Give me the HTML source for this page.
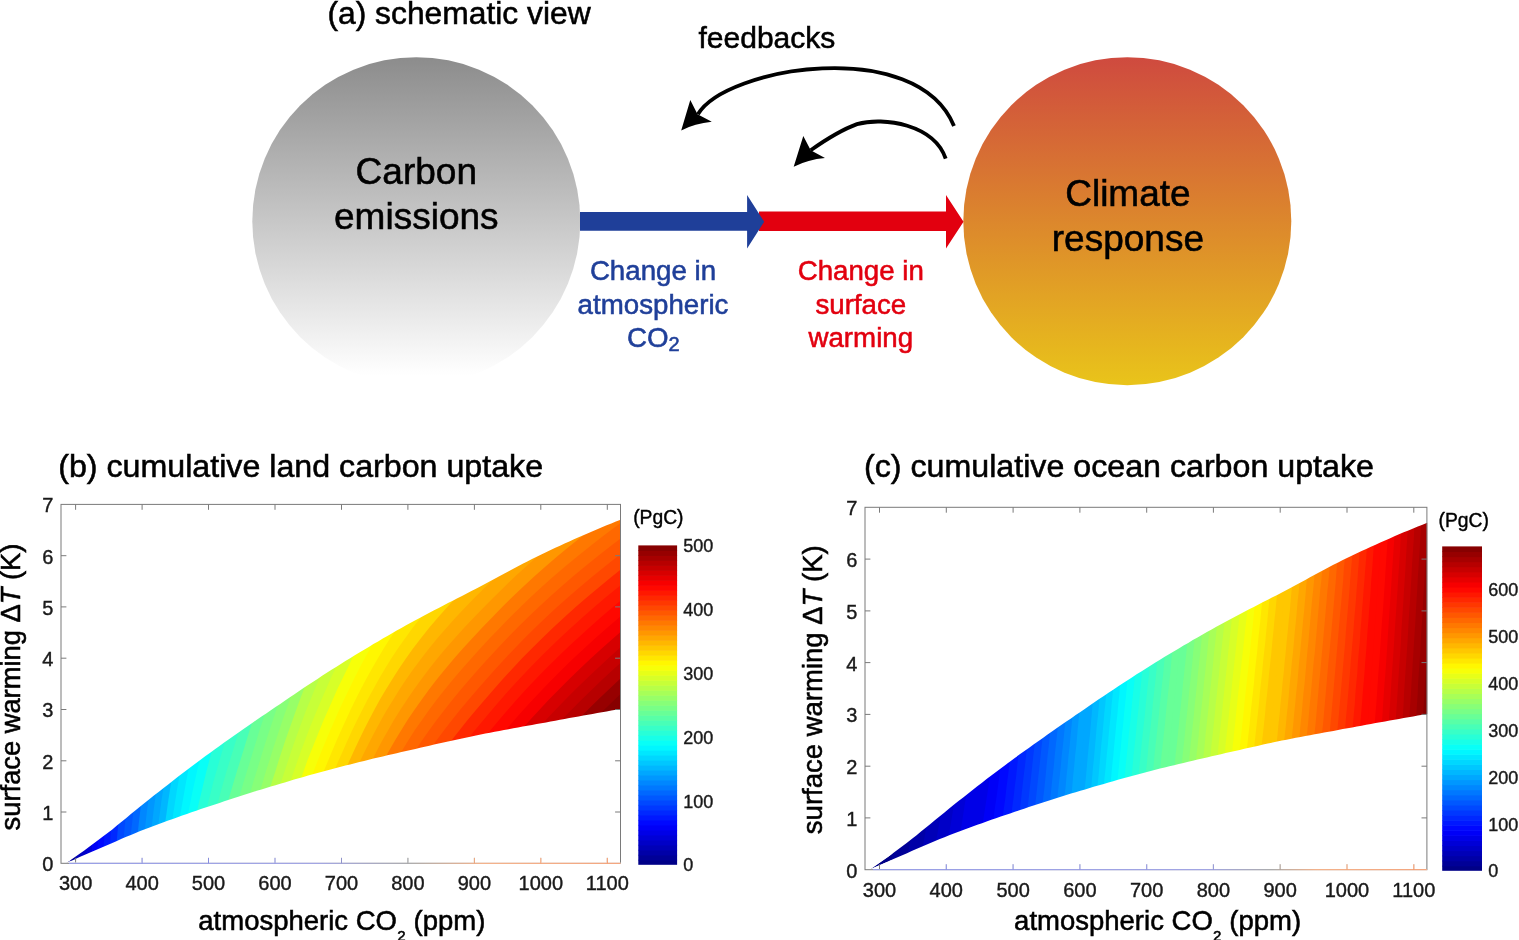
<!DOCTYPE html>
<html lang="en"><head><meta charset="utf-8"><title>Carbon-climate feedbacks</title>
<style>html,body{margin:0;padding:0;background:#fff;}body{width:1519px;height:940px;overflow:hidden;font-family:"Liberation Sans", sans-serif;}</style></head>
<body>
<svg width="1519" height="940" viewBox="0 0 1519 940" style="display:block" font-family='Liberation Sans, sans-serif'>
<defs>
<linearGradient id="gGrey" x1="0" y1="0" x2="0" y2="1"><stop offset="0" stop-color="#8c8c8c"/><stop offset="0.97" stop-color="#ffffff"/></linearGradient>
<linearGradient id="gWarm" x1="0" y1="0" x2="0" y2="1"><stop offset="0" stop-color="#cf4a3f"/><stop offset="1" stop-color="#e9c41a"/></linearGradient>
</defs>
<rect width="1519" height="940" fill="#fff"/>
<text x="327.4" y="23.7" font-size="31.8" fill="#000" stroke="#000" stroke-width="0.55">(a) schematic view</text>
<circle cx="416.3" cy="221.2" r="164" fill="url(#gGrey)"/>
<circle cx="1127.3" cy="221.2" r="164" fill="url(#gWarm)"/>
<text x="416.3" y="184.1" font-size="37" text-anchor="middle" fill="#000" stroke="#000" stroke-width="0.55">Carbon</text>
<text x="416.3" y="228.9" font-size="37" text-anchor="middle" fill="#000" stroke="#000" stroke-width="0.55">emissions</text>
<text x="1127.9" y="206.1" font-size="37" text-anchor="middle" fill="#000" stroke="#000" stroke-width="0.55">Climate</text>
<text x="1127.9" y="250.8" font-size="37" text-anchor="middle" fill="#000" stroke="#000" stroke-width="0.55">response</text>
<path d="M759 211.6 H946 V194.9 L963.5 221.7 L946 248.5 V231 H759 Z" fill="#e2000f"/>
<path d="M580 212.1 H747.1 V195.1 L764.2 221.8 L747.1 248.5 V230.8 H580 Z" fill="#1f3f99"/>
<text x="653" y="280.3" font-size="27.7" text-anchor="middle" fill="#1f3f99" stroke="#1f3f99" stroke-width="0.55">Change in</text>
<text x="653" y="313.9" font-size="27.7" text-anchor="middle" fill="#1f3f99" stroke="#1f3f99" stroke-width="0.55">atmospheric</text>
<text x="627" y="347.4" font-size="27.7" fill="#1f3f99" stroke="#1f3f99" stroke-width="0.55">CO<tspan font-size="20" dy="4">2</tspan></text>
<text x="860.8" y="280.3" font-size="27.7" text-anchor="middle" fill="#e2000f" stroke="#e2000f" stroke-width="0.55">Change in</text>
<text x="860.8" y="313.9" font-size="27.7" text-anchor="middle" fill="#e2000f" stroke="#e2000f" stroke-width="0.55">surface</text>
<text x="860.8" y="347.4" font-size="27.7" text-anchor="middle" fill="#e2000f" stroke="#e2000f" stroke-width="0.55">warming</text>
<text x="698.5" y="48.3" font-size="30" fill="#000" stroke="#000" stroke-width="0.55">feedbacks</text>
<path d="M954 126 C916.9 35.3 725.4 67 697.9 114.3" fill="none" stroke="#000" stroke-width="3.8"/>
<path d="M945.7 158.7 C934.1 124.7 884.2 116.5 857 124.1 Q838 131 810.7 150.2" fill="none" stroke="#000" stroke-width="3.8"/>
<path d="M681.2 130.4 L690.3 100.1 L697.5 114.2 L711.8 121.8 Q695 123.5 681.2 130.4 Z" fill="#000"/>
<path d="M793.7 166.7 L803.3 136.1 L810.7 150.2 L825 158 Q808 159.5 793.7 166.7 Z" fill="#000"/>
<mask id="clipb" maskUnits="userSpaceOnUse" x="0" y="400" width="1519" height="540"><path d="M65.6 863.3 L70.3 860.2 L75.0 857.0 L79.6 853.7 L84.3 850.4 L88.9 847.0 L93.6 843.6 L98.3 840.1 L102.9 836.6 L107.6 833.0 L112.3 829.4 L116.9 825.6 L121.6 821.8 L126.3 817.9 L130.9 814.1 L135.6 810.3 L140.2 806.5 L144.9 802.8 L149.6 799.0 L154.2 795.3 L158.9 791.7 L163.6 788.0 L168.2 784.4 L172.9 780.7 L177.6 777.1 L182.2 773.5 L186.9 770.0 L191.5 766.5 L196.2 763.0 L200.9 759.5 L205.5 756.1 L210.2 752.7 L214.9 749.3 L219.5 746.0 L224.2 742.6 L228.9 739.3 L233.5 736.0 L238.2 732.8 L242.8 729.5 L247.5 726.3 L252.2 723.0 L256.8 719.8 L261.5 716.6 L266.2 713.4 L270.8 710.2 L275.5 707.1 L280.2 703.9 L284.8 700.7 L289.5 697.5 L294.1 694.4 L298.8 691.3 L303.5 688.1 L308.1 685.0 L312.8 681.9 L317.5 678.9 L322.1 675.8 L326.8 672.8 L331.5 669.8 L336.1 666.9 L340.8 664.0 L345.4 661.1 L350.1 658.2 L354.8 655.3 L359.4 652.5 L364.1 649.7 L368.8 646.9 L373.4 644.1 L378.1 641.4 L382.8 638.6 L387.4 635.9 L392.1 633.3 L396.7 630.6 L401.4 628.0 L406.1 625.3 L410.7 622.8 L415.4 620.2 L420.1 617.7 L424.7 615.2 L429.4 612.7 L434.1 610.3 L438.7 607.9 L443.4 605.5 L448.0 603.1 L452.7 600.7 L457.4 598.3 L462.0 595.9 L466.7 593.5 L471.4 591.1 L476.0 588.7 L480.7 586.3 L485.4 583.8 L490.0 581.3 L494.7 578.8 L499.3 576.3 L504.0 573.8 L508.7 571.3 L513.3 568.7 L518.0 566.3 L522.7 563.8 L527.3 561.4 L532.0 559.0 L536.7 556.7 L541.3 554.4 L546.0 552.2 L550.6 550.0 L555.3 547.8 L560.0 545.7 L564.6 543.5 L569.3 541.4 L574.0 539.3 L578.6 537.2 L583.3 535.2 L588.0 533.2 L592.6 531.2 L597.3 529.2 L601.9 527.3 L606.6 525.3 L611.3 523.5 L615.9 521.6 L620.6 519.8 L620.6 709.0 L615.9 709.8 L611.3 710.6 L606.6 711.5 L601.9 712.3 L597.3 713.1 L592.6 713.9 L588.0 714.8 L583.3 715.6 L578.6 716.5 L574.0 717.3 L569.3 718.1 L564.6 719.0 L560.0 719.8 L555.3 720.7 L550.6 721.5 L546.0 722.4 L541.3 723.2 L536.7 724.1 L532.0 724.9 L527.3 725.8 L522.7 726.6 L518.0 727.5 L513.3 728.3 L508.7 729.2 L504.0 730.1 L499.3 730.9 L494.7 731.8 L490.0 732.7 L485.4 733.6 L480.7 734.5 L476.0 735.5 L471.4 736.5 L466.7 737.4 L462.0 738.4 L457.4 739.4 L452.7 740.5 L448.0 741.5 L443.4 742.5 L438.7 743.6 L434.1 744.6 L429.4 745.7 L424.7 746.7 L420.1 747.8 L415.4 748.9 L410.7 750.0 L406.1 751.0 L401.4 752.1 L396.7 753.2 L392.1 754.3 L387.4 755.3 L382.8 756.4 L378.1 757.5 L373.4 758.6 L368.8 759.8 L364.1 760.9 L359.4 762.0 L354.8 763.2 L350.1 764.4 L345.4 765.5 L340.8 766.7 L336.1 768.0 L331.5 769.2 L326.8 770.5 L322.1 771.7 L317.5 773.0 L312.8 774.3 L308.1 775.6 L303.5 776.9 L298.8 778.3 L294.1 779.6 L289.5 781.0 L284.8 782.4 L280.2 783.8 L275.5 785.2 L270.8 786.6 L266.2 788.0 L261.5 789.4 L256.8 790.8 L252.2 792.3 L247.5 793.8 L242.8 795.3 L238.2 796.8 L233.5 798.3 L228.9 799.8 L224.2 801.3 L219.5 802.9 L214.9 804.4 L210.2 806.0 L205.5 807.6 L200.9 809.1 L196.2 810.7 L191.5 812.3 L186.9 813.9 L182.2 815.6 L177.6 817.2 L172.9 818.9 L168.2 820.6 L163.6 822.3 L158.9 824.0 L154.2 825.7 L149.6 827.5 L144.9 829.3 L140.2 831.1 L135.6 833.0 L130.9 834.9 L126.3 836.8 L121.6 838.8 L116.9 840.9 L112.3 842.9 L107.6 844.9 L102.9 846.9 L98.3 849.0 L93.6 851.0 L88.9 853.0 L84.3 855.1 L79.6 857.1 L75.0 859.2 L70.3 861.2 L65.6 863.3Z" fill="#fff"/></mask>
<g mask="url(#clipb)">
<path d="M65.6 863.3 L70.3 860.2 L75.0 857.0 L79.6 853.7 L84.3 850.4 L88.9 847.0 L93.6 843.6 L98.3 840.1 L102.9 836.6 L107.6 833.0 L112.3 829.4 L116.9 825.6 L121.6 821.8 L126.3 817.9 L130.9 814.1 L135.6 810.3 L140.2 806.5 L144.9 802.8 L149.6 799.0 L154.2 795.3 L158.9 791.7 L163.6 788.0 L168.2 784.4 L172.9 780.7 L177.6 777.1 L182.2 773.5 L186.9 770.0 L191.5 766.5 L196.2 763.0 L200.9 759.5 L205.5 756.1 L210.2 752.7 L214.9 749.3 L219.5 746.0 L224.2 742.6 L228.9 739.3 L233.5 736.0 L238.2 732.8 L242.8 729.5 L247.5 726.3 L252.2 723.0 L256.8 719.8 L261.5 716.6 L266.2 713.4 L270.8 710.2 L275.5 707.1 L280.2 703.9 L284.8 700.7 L289.5 697.5 L294.1 694.4 L298.8 691.3 L303.5 688.1 L308.1 685.0 L312.8 681.9 L317.5 678.9 L322.1 675.8 L326.8 672.8 L331.5 669.8 L336.1 666.9 L340.8 664.0 L345.4 661.1 L350.1 658.2 L354.8 655.3 L359.4 652.5 L364.1 649.7 L368.8 646.9 L373.4 644.1 L378.1 641.4 L382.8 638.6 L387.4 635.9 L392.1 633.3 L396.7 630.6 L401.4 628.0 L406.1 625.3 L410.7 622.8 L415.4 620.2 L420.1 617.7 L424.7 615.2 L429.4 612.7 L434.1 610.3 L438.7 607.9 L443.4 605.5 L448.0 603.1 L452.7 600.7 L457.4 598.3 L462.0 595.9 L466.7 593.5 L471.4 591.1 L476.0 588.7 L480.7 586.3 L485.4 583.8 L490.0 581.3 L494.7 578.8 L499.3 576.3 L504.0 573.8 L508.7 571.3 L513.3 568.7 L518.0 566.3 L522.7 563.8 L527.3 561.4 L532.0 559.0 L536.7 556.7 L541.3 554.4 L546.0 552.2 L550.6 550.0 L555.3 547.8 L560.0 545.7 L564.6 543.5 L569.3 541.4 L574.0 539.3 L578.6 537.2 L583.3 535.2 L588.0 533.2 L592.6 531.2 L597.3 529.2 L601.9 527.3 L606.6 525.3 L611.3 523.5 L615.9 521.6 L620.6 519.8 L620.6 709.0 L615.9 709.8 L611.3 710.6 L606.6 711.5 L601.9 712.3 L597.3 713.1 L592.6 713.9 L588.0 714.8 L583.3 715.6 L578.6 716.5 L574.0 717.3 L569.3 718.1 L564.6 719.0 L560.0 719.8 L555.3 720.7 L550.6 721.5 L546.0 722.4 L541.3 723.2 L536.7 724.1 L532.0 724.9 L527.3 725.8 L522.7 726.6 L518.0 727.5 L513.3 728.3 L508.7 729.2 L504.0 730.1 L499.3 730.9 L494.7 731.8 L490.0 732.7 L485.4 733.6 L480.7 734.5 L476.0 735.5 L471.4 736.5 L466.7 737.4 L462.0 738.4 L457.4 739.4 L452.7 740.5 L448.0 741.5 L443.4 742.5 L438.7 743.6 L434.1 744.6 L429.4 745.7 L424.7 746.7 L420.1 747.8 L415.4 748.9 L410.7 750.0 L406.1 751.0 L401.4 752.1 L396.7 753.2 L392.1 754.3 L387.4 755.3 L382.8 756.4 L378.1 757.5 L373.4 758.6 L368.8 759.8 L364.1 760.9 L359.4 762.0 L354.8 763.2 L350.1 764.4 L345.4 765.5 L340.8 766.7 L336.1 768.0 L331.5 769.2 L326.8 770.5 L322.1 771.7 L317.5 773.0 L312.8 774.3 L308.1 775.6 L303.5 776.9 L298.8 778.3 L294.1 779.6 L289.5 781.0 L284.8 782.4 L280.2 783.8 L275.5 785.2 L270.8 786.6 L266.2 788.0 L261.5 789.4 L256.8 790.8 L252.2 792.3 L247.5 793.8 L242.8 795.3 L238.2 796.8 L233.5 798.3 L228.9 799.8 L224.2 801.3 L219.5 802.9 L214.9 804.4 L210.2 806.0 L205.5 807.6 L200.9 809.1 L196.2 810.7 L191.5 812.3 L186.9 813.9 L182.2 815.6 L177.6 817.2 L172.9 818.9 L168.2 820.6 L163.6 822.3 L158.9 824.0 L154.2 825.7 L149.6 827.5 L144.9 829.3 L140.2 831.1 L135.6 833.0 L130.9 834.9 L126.3 836.8 L121.6 838.8 L116.9 840.9 L112.3 842.9 L107.6 844.9 L102.9 846.9 L98.3 849.0 L93.6 851.0 L88.9 853.0 L84.3 855.1 L79.6 857.1 L75.0 859.2 L70.3 861.2 L65.6 863.3Z" fill="#000087"/>
<path d="M68.2 914.6 L70.2 883.8 L70.4 873.6 L70.7 863.3 L70.7 853.0 L70.9 842.8 L72.9 453.1 L740.2 453.1 L740.2 914.6 Z" fill="#000097"/>
<path d="M73.2 914.6 L75.2 883.8 L75.4 873.6 L75.6 863.3 L75.9 853.0 L76.1 842.8 L76.3 832.5 L78.3 453.1 L740.2 453.1 L740.2 914.6 Z" fill="#0000b7"/>
<path d="M78.4 914.6 L80.4 873.6 L80.6 863.3 L80.8 853.0 L81.3 842.8 L81.5 832.5 L83.5 453.1 L740.2 453.1 L740.2 914.6 Z" fill="#0000c7"/>
<path d="M83.4 914.6 L85.4 873.6 L85.8 863.3 L86.3 853.0 L86.7 842.8 L86.9 832.5 L88.9 453.1 L740.2 453.1 L740.2 914.6 Z" fill="#0000d7"/>
<path d="M88.8 914.6 L90.8 873.6 L91.2 863.3 L91.7 853.0 L92.1 842.8 L92.6 832.5 L93.3 822.3 L95.3 453.1 L740.2 453.1 L740.2 914.6 Z" fill="#0000f7"/>
<path d="M94.2 914.6 L96.2 873.6 L96.7 863.3 L97.3 853.0 L97.8 842.8 L98.5 832.5 L99.2 822.3 L101.2 453.1 L740.2 453.1 L740.2 914.6 Z" fill="#0008ff"/>
<path d="M100.5 914.6 L102.5 863.3 L103.2 853.0 L103.9 842.8 L104.6 832.5 L105.3 822.3 L105.9 812.0 L107.9 453.1 L740.2 453.1 L740.2 914.6 Z" fill="#0018ff"/>
<path d="M106.4 914.6 L108.4 863.3 L109.3 853.0 L110.0 842.8 L110.9 832.5 L111.8 822.3 L112.5 812.0 L114.5 453.1 L740.2 453.1 L740.2 914.6 Z" fill="#0028ff"/>
<path d="M112.8 914.6 L114.8 863.3 L115.7 853.0 L116.6 842.8 L117.5 832.5 L118.4 822.3 L119.3 812.0 L120.4 801.8 L122.4 453.1 L740.2 453.1 L740.2 914.6 Z" fill="#0048ff"/>
<path d="M119.3 914.6 L121.3 863.3 L122.2 853.0 L123.1 842.8 L124.2 832.5 L125.1 822.3 L126.3 812.0 L127.4 801.8 L128.5 791.5 L130.5 453.1 L740.2 453.1 L740.2 914.6 Z" fill="#0058ff"/>
<path d="M126.8 914.6 L128.8 853.0 L129.9 842.8 L131.0 832.5 L132.2 822.3 L133.3 812.0 L134.4 801.8 L135.5 791.5 L137.5 453.1 L740.2 453.1 L740.2 914.6 Z" fill="#0068ff"/>
<path d="M133.5 914.6 L135.5 853.0 L136.7 842.8 L137.8 832.5 L138.9 822.3 L140.1 812.0 L141.4 801.8 L142.6 791.5 L143.9 781.3 L145.9 453.1 L740.2 453.1 L740.2 914.6 Z" fill="#0087ff"/>
<path d="M140.1 914.6 L142.1 853.0 L143.2 842.8 L144.4 832.5 L145.7 822.3 L146.8 812.0 L148.2 801.8 L149.3 791.5 L150.7 781.3 L152.7 453.1 L740.2 453.1 L740.2 914.6 Z" fill="#0097ff"/>
<path d="M146.4 914.6 L148.4 853.0 L149.8 842.8 L150.9 832.5 L152.3 822.3 L153.4 812.0 L154.8 801.8 L156.1 791.5 L157.5 781.3 L158.8 771.0 L160.8 453.1 L740.2 453.1 L740.2 914.6 Z" fill="#00a7ff"/>
<path d="M154.1 914.6 L156.1 842.8 L157.5 832.5 L158.6 822.3 L160.0 812.0 L161.3 801.8 L162.9 791.5 L164.3 781.3 L165.8 771.0 L167.2 760.8 L169.2 453.1 L740.2 453.1 L740.2 914.6 Z" fill="#00b7ff"/>
<path d="M160.4 914.6 L162.4 842.8 L163.8 832.5 L165.2 822.3 L166.7 812.0 L168.1 801.8 L169.7 791.5 L171.3 781.3 L172.8 771.0 L174.4 760.8 L176.4 453.1 L740.2 453.1 L740.2 914.6 Z" fill="#00d7ff"/>
<path d="M167.0 914.6 L169.0 842.8 L170.4 832.5 L171.9 822.3 L173.5 812.0 L175.1 801.8 L176.7 791.5 L178.5 781.3 L180.3 771.0 L182.1 760.8 L183.9 750.5 L185.9 453.1 L740.2 453.1 L740.2 914.6 Z" fill="#00e7ff"/>
<path d="M173.8 914.6 L175.8 842.8 L177.4 832.5 L178.9 822.3 L180.8 812.0 L182.6 801.8 L184.4 791.5 L186.2 781.3 L188.2 771.0 L190.5 760.8 L192.7 750.5 L195.0 740.3 L197.0 453.1 L740.2 453.1 L740.2 914.6 Z" fill="#00f7ff"/>
<path d="M182.6 914.6 L184.6 832.5 L186.4 822.3 L188.4 812.0 L190.5 801.8 L192.5 791.5 L194.8 781.3 L197.0 771.0 L199.5 760.8 L202.0 750.5 L204.5 740.3 L207.2 730.0 L209.2 453.1 L740.2 453.1 L740.2 914.6 Z" fill="#08fff7"/>
<path d="M190.5 914.6 L192.5 832.5 L194.8 822.3 L196.8 812.0 L199.1 801.8 L201.6 791.5 L204.0 781.3 L206.5 771.0 L209.2 760.8 L212.0 750.5 L214.9 740.3 L217.8 730.0 L220.8 719.7 L222.8 453.1 L740.2 453.1 L740.2 914.6 Z" fill="#28ffd7"/>
<path d="M199.1 914.6 L201.1 832.5 L203.4 822.3 L205.8 812.0 L208.3 801.8 L211.0 791.5 L213.5 781.3 L216.5 771.0 L219.4 760.8 L222.4 750.5 L225.3 740.3 L228.5 730.0 L231.8 719.7 L235.2 709.5 L237.2 453.1 L740.2 453.1 L740.2 914.6 Z" fill="#38ffc7"/>
<path d="M210.6 914.6 L212.6 822.3 L215.3 812.0 L218.1 801.8 L220.8 791.5 L223.7 781.3 L226.6 771.0 L229.8 760.8 L233.0 750.5 L236.1 740.3 L239.3 730.0 L242.7 719.7 L246.1 709.5 L248.1 453.1 L740.2 453.1 L740.2 914.6 Z" fill="#48ffb7"/>
<path d="M220.1 914.6 L222.1 822.3 L225.1 812.0 L227.8 801.8 L230.9 791.5 L233.9 781.3 L237.0 771.0 L240.2 760.8 L243.4 750.5 L246.5 740.3 L249.7 730.0 L253.1 719.7 L256.3 709.5 L259.6 699.2 L261.6 453.1 L740.2 453.1 L740.2 914.6 Z" fill="#68ff97"/>
<path d="M229.8 914.6 L231.8 822.3 L234.8 812.0 L237.7 801.8 L240.9 791.5 L243.8 781.3 L247.0 771.0 L250.2 760.8 L253.3 750.5 L256.5 740.3 L259.6 730.0 L263.0 719.7 L266.4 709.5 L269.8 699.2 L273.2 689.0 L275.2 453.1 L740.2 453.1 L740.2 914.6 Z" fill="#78ff87"/>
<path d="M242.5 914.6 L244.5 812.0 L247.4 801.8 L250.6 791.5 L253.5 781.3 L256.7 771.0 L259.9 760.8 L263.0 750.5 L266.2 740.3 L269.6 730.0 L273.0 719.7 L276.4 709.5 L279.8 699.2 L283.4 689.0 L287.0 678.7 L289.0 453.1 L740.2 453.1 L740.2 914.6 Z" fill="#87ff78"/>
<path d="M251.8 914.6 L253.8 812.0 L256.7 801.8 L259.9 791.5 L263.0 781.3 L266.0 771.0 L269.4 760.8 L272.5 750.5 L275.9 740.3 L279.3 730.0 L282.7 719.7 L286.3 709.5 L289.9 699.2 L293.6 689.0 L297.4 678.7 L301.5 668.5 L303.5 453.1 L740.2 453.1 L740.2 914.6 Z" fill="#97ff68"/>
<path d="M260.8 914.6 L262.8 812.0 L266.0 801.8 L268.9 791.5 L272.1 781.3 L275.5 771.0 L278.6 760.8 L282.0 750.5 L285.4 740.3 L289.0 730.0 L292.7 719.7 L296.3 709.5 L300.1 699.2 L304.0 689.0 L308.2 678.7 L312.3 668.5 L316.8 658.2 L318.8 453.1 L740.2 453.1 L740.2 914.6 Z" fill="#b7ff48"/>
<path d="M273.0 914.6 L275.0 801.8 L278.2 791.5 L281.3 781.3 L284.7 771.0 L288.1 760.8 L291.5 750.5 L295.1 740.3 L298.8 730.0 L302.6 719.7 L306.4 709.5 L310.7 699.2 L314.8 689.0 L319.3 678.7 L323.8 668.5 L328.6 658.2 L333.3 648.0 L335.3 453.1 L740.2 453.1 L740.2 914.6 Z" fill="#c7ff38"/>
<path d="M282.1 914.6 L284.1 801.8 L287.2 791.5 L290.6 781.3 L294.0 771.0 L297.6 760.8 L301.2 750.5 L305.1 740.3 L308.9 730.0 L313.0 719.7 L317.3 709.5 L321.6 699.2 L326.1 689.0 L330.6 678.7 L335.4 668.5 L340.3 658.2 L345.3 648.0 L350.5 637.7 L352.5 453.1 L740.2 453.1 L740.2 914.6 Z" fill="#d7ff28"/>
<path d="M291.1 914.6 L293.1 801.8 L296.5 791.5 L300.1 781.3 L303.7 771.0 L307.3 760.8 L311.4 750.5 L315.5 740.3 L319.6 730.0 L323.8 719.7 L328.4 709.5 L332.9 699.2 L337.4 689.0 L342.4 678.7 L347.4 668.5 L352.3 658.2 L357.8 648.0 L363.4 637.7 L369.1 627.5 L371.1 453.1 L740.2 453.1 L740.2 914.6 Z" fill="#f7ff08"/>
<path d="M300.4 914.6 L302.4 801.8 L306.0 791.5 L309.8 781.3 L313.7 771.0 L317.7 760.8 L321.8 750.5 L326.1 740.3 L330.4 730.0 L334.9 719.7 L339.4 709.5 L344.2 699.2 L349.2 689.0 L354.1 678.7 L359.3 668.5 L364.8 658.2 L370.6 648.0 L376.5 637.7 L382.8 627.5 L389.4 617.2 L396.6 606.9 L398.6 453.1 L740.2 453.1 L740.2 914.6 Z" fill="#fff700"/>
<path d="M313.9 914.6 L315.9 791.5 L319.8 781.3 L323.8 771.0 L328.1 760.8 L332.4 750.5 L336.7 740.3 L341.3 730.0 L346.0 719.7 L350.7 709.5 L355.7 699.2 L360.9 689.0 L366.3 678.7 L372.0 668.5 L377.9 658.2 L384.0 648.0 L390.5 637.7 L397.3 627.5 L404.8 617.2 L412.5 606.9 L420.8 596.7 L422.8 453.1 L740.2 453.1 L740.2 914.6 Z" fill="#ffe700"/>
<path d="M323.9 914.6 L325.9 791.5 L330.0 781.3 L334.2 771.0 L338.5 760.8 L343.1 750.5 L347.6 740.3 L352.3 730.0 L357.3 719.7 L362.5 709.5 L367.7 699.2 L373.4 689.0 L379.0 678.7 L385.1 668.5 L391.4 658.2 L398.2 648.0 L405.5 637.7 L412.9 627.5 L421.0 617.2 L429.4 606.9 L438.5 596.7 L447.9 586.4 L457.9 576.2 L459.9 453.1 L740.2 453.1 L740.2 914.6 Z" fill="#ffd700"/>
<path d="M334.1 914.6 L336.1 791.5 L340.3 781.3 L344.9 771.0 L349.4 760.8 L354.1 750.5 L358.9 740.3 L363.9 730.0 L369.1 719.7 L374.5 709.5 L380.1 699.2 L386.2 689.0 L392.6 678.7 L399.1 668.5 L406.1 658.2 L413.4 648.0 L421.3 637.7 L429.4 627.5 L438.2 617.2 L447.3 606.9 L456.8 596.7 L466.9 586.4 L477.1 576.2 L488.0 565.9 L498.8 555.7 L509.9 545.4 L511.9 453.1 L740.2 453.1 L740.2 914.6 Z" fill="#ffb700"/>
<path d="M349.0 914.6 L351.0 781.3 L355.5 771.0 L360.2 760.8 L365.2 750.5 L370.4 740.3 L375.8 730.0 L381.3 719.7 L387.1 709.5 L393.5 699.2 L399.8 689.0 L406.6 678.7 L413.8 668.5 L421.5 658.2 L429.4 648.0 L437.8 637.7 L446.8 627.5 L455.9 617.2 L465.6 606.9 L475.5 596.7 L485.9 586.4 L496.5 576.2 L507.2 565.9 L518.2 555.7 L530.0 545.4 L542.0 535.2 L554.4 524.9 L556.4 453.1 L740.2 453.1 L740.2 914.6 Z" fill="#ffa700"/>
<path d="M359.8 914.6 L361.8 781.3 L366.6 771.0 L371.8 760.8 L377.0 750.5 L382.4 740.3 L388.3 730.0 L394.1 719.7 L400.5 709.5 L407.3 699.2 L414.3 689.0 L421.7 678.7 L429.4 668.5 L437.5 658.2 L446.1 648.0 L455.2 637.7 L464.4 627.5 L474.2 617.2 L484.1 606.9 L494.3 596.7 L504.7 586.4 L515.3 576.2 L526.6 565.9 L538.1 555.7 L550.1 545.4 L562.6 535.2 L575.7 524.9 L589.0 514.7 L603.0 504.4 L605.0 453.1 L740.2 453.1 L740.2 914.6 Z" fill="#ff9700"/>
<path d="M370.9 914.6 L372.9 781.3 L378.1 771.0 L383.5 760.8 L389.2 750.5 L395.1 740.3 L401.4 730.0 L407.7 719.7 L414.7 709.5 L422.0 699.2 L429.4 689.0 L437.3 678.7 L445.7 668.5 L454.3 658.2 L463.3 648.0 L472.8 637.7 L482.3 627.5 L492.3 617.2 L502.2 606.9 L512.6 596.7 L523.4 586.4 L534.5 576.2 L546.1 565.9 L558.0 555.7 L570.5 545.4 L583.4 535.2 L596.7 524.9 L610.5 514.7 L624.7 504.4 L626.7 453.1 L740.2 453.1 L740.2 914.6 Z" fill="#ff7800"/>
<path d="M382.4 914.6 L384.4 781.3 L390.1 771.0 L396.0 760.8 L402.1 750.5 L408.4 740.3 L414.9 730.0 L422.2 719.7 L429.4 709.5 L437.1 699.2 L445.2 689.0 L453.6 678.7 L462.4 668.5 L471.5 658.2 L480.7 648.0 L490.2 637.7 L500.2 627.5 L510.1 617.2 L520.5 606.9 L531.1 596.7 L542.2 586.4 L553.7 576.2 L565.7 565.9 L578.2 555.7 L591.0 545.4 L604.1 535.2 L617.9 524.9 L632.0 514.7 L634.0 453.1 L740.2 453.1 L740.2 914.6 Z" fill="#ff6800"/>
<path d="M400.5 914.6 L402.5 771.0 L408.8 760.8 L415.4 750.5 L422.2 740.3 L429.4 730.0 L436.9 719.7 L444.8 709.5 L452.9 699.2 L461.3 689.0 L470.1 678.7 L479.1 668.5 L488.4 658.2 L497.9 648.0 L507.6 637.7 L517.6 627.5 L528.0 617.2 L538.8 606.9 L549.9 596.7 L561.4 586.4 L573.2 576.2 L585.6 565.9 L598.3 555.7 L611.4 545.4 L624.9 535.2 L626.9 453.1 L740.2 453.1 L740.2 914.6 Z" fill="#ff5800"/>
<path d="M413.6 914.6 L415.6 771.0 L422.4 760.8 L429.4 750.5 L436.6 740.3 L444.3 730.0 L452.2 719.7 L460.4 709.5 L469.0 699.2 L477.8 689.0 L486.8 678.7 L495.9 668.5 L505.4 658.2 L515.1 648.0 L525.0 637.7 L535.4 627.5 L546.1 617.2 L557.1 606.9 L568.7 596.7 L580.6 586.4 L592.8 576.2 L605.5 565.9 L618.4 555.7 L632.0 545.4 L634.0 453.1 L740.2 453.1 L740.2 914.6 Z" fill="#ff4800"/>
<path d="M427.4 914.6 L429.4 771.0 L436.4 760.8 L443.9 750.5 L451.6 740.3 L459.7 730.0 L467.8 719.7 L476.4 709.5 L485.2 699.2 L494.1 689.0 L503.1 678.7 L512.6 668.5 L522.1 658.2 L532.3 648.0 L542.7 637.7 L553.3 627.5 L564.4 617.2 L575.7 606.9 L587.6 596.7 L599.9 586.4 L612.3 576.2 L625.2 565.9 L627.2 453.1 L740.2 453.1 L740.2 914.6 Z" fill="#ff2800"/>
<path d="M449.1 914.6 L451.1 760.8 L458.8 750.5 L466.9 740.3 L475.1 730.0 L483.7 719.7 L492.3 709.5 L501.1 699.2 L510.1 689.0 L519.6 678.7 L529.3 668.5 L539.3 658.2 L549.7 648.0 L560.3 637.7 L571.4 627.5 L582.7 617.2 L594.4 606.9 L606.4 596.7 L619.1 586.4 L631.7 576.2 L633.7 453.1 L740.2 453.1 L740.2 914.6 Z" fill="#ff1800"/>
<path d="M463.8 914.6 L465.8 760.8 L473.9 750.5 L482.1 740.3 L490.7 730.0 L499.3 719.7 L508.1 709.5 L517.1 699.2 L526.4 689.0 L536.1 678.7 L546.1 668.5 L556.5 658.2 L567.1 648.0 L578.2 637.7 L589.5 627.5 L601.0 617.2 L613.0 606.9 L625.4 596.7 L627.4 453.1 L740.2 453.1 L740.2 914.6 Z" fill="#ff0800"/>
<path d="M486.9 914.6 L488.9 750.5 L497.5 740.3 L505.8 730.0 L514.6 719.7 L523.7 709.5 L533.2 699.2 L542.9 689.0 L552.8 678.7 L563.0 668.5 L573.6 658.2 L584.7 648.0 L595.8 637.7 L607.5 627.5 L619.5 617.2 L631.7 606.9 L633.7 453.1 L740.2 453.1 L740.2 914.6 Z" fill="#f70000"/>
<path d="M502.0 914.6 L504.0 750.5 L512.4 740.3 L521.2 730.0 L530.2 719.7 L539.7 709.5 L549.2 699.2 L559.4 689.0 L569.6 678.7 L580.2 668.5 L591.0 658.2 L602.3 648.0 L613.9 637.7 L625.6 627.5 L627.6 453.1 L740.2 453.1 L740.2 914.6 Z" fill="#d70000"/>
<path d="M516.9 914.6 L518.9 750.5 L527.7 740.3 L536.8 730.0 L546.1 719.7 L555.8 709.5 L565.7 699.2 L575.9 689.0 L586.5 678.7 L597.4 668.5 L608.4 658.2 L619.7 648.0 L631.7 637.7 L633.7 453.1 L740.2 453.1 L740.2 914.6 Z" fill="#c70000"/>
<path d="M540.9 914.6 L542.9 740.3 L552.4 730.0 L561.9 719.7 L571.8 709.5 L582.0 699.2 L592.6 689.0 L603.2 678.7 L614.3 668.5 L625.8 658.2 L627.8 453.1 L740.2 453.1 L740.2 914.6 Z" fill="#b70000"/>
<path d="M556.5 914.6 L558.5 740.3 L568.0 730.0 L577.9 719.7 L588.1 709.5 L598.5 699.2 L609.3 689.0 L620.2 678.7 L631.5 668.5 L633.5 453.1 L740.2 453.1 L740.2 914.6 Z" fill="#970000"/>
<path d="M572.1 914.6 L574.1 740.3 L583.8 730.0 L594.0 719.7 L604.4 709.5 L615.0 699.2 L625.8 689.0 L627.8 453.1 L740.2 453.1 L740.2 914.6 Z" fill="#870000"/>
</g>
<rect x="61.0" y="504.4" width="559.5" height="358.9" fill="none" stroke="#7a7a7a" stroke-width="1"/>
<text x="75.6" y="890.2" font-size="20" text-anchor="middle" fill="#1a1a1a" stroke="#1a1a1a" stroke-width="0.40">300</text>
<text x="142.1" y="890.2" font-size="20" text-anchor="middle" fill="#1a1a1a" stroke="#1a1a1a" stroke-width="0.40">400</text>
<text x="208.5" y="890.2" font-size="20" text-anchor="middle" fill="#1a1a1a" stroke="#1a1a1a" stroke-width="0.40">500</text>
<text x="275.0" y="890.2" font-size="20" text-anchor="middle" fill="#1a1a1a" stroke="#1a1a1a" stroke-width="0.40">600</text>
<text x="341.5" y="890.2" font-size="20" text-anchor="middle" fill="#1a1a1a" stroke="#1a1a1a" stroke-width="0.40">700</text>
<text x="407.9" y="890.2" font-size="20" text-anchor="middle" fill="#1a1a1a" stroke="#1a1a1a" stroke-width="0.40">800</text>
<text x="474.4" y="890.2" font-size="20" text-anchor="middle" fill="#1a1a1a" stroke="#1a1a1a" stroke-width="0.40">900</text>
<text x="540.8" y="890.2" font-size="20" text-anchor="middle" fill="#1a1a1a" stroke="#1a1a1a" stroke-width="0.40">1000</text>
<text x="607.3" y="890.2" font-size="20" text-anchor="middle" fill="#1a1a1a" stroke="#1a1a1a" stroke-width="0.40">1100</text>
<text x="53.4" y="871.2" font-size="20" text-anchor="end" fill="#1a1a1a" stroke="#1a1a1a" stroke-width="0.40">0</text>
<text x="53.4" y="819.9" font-size="20" text-anchor="end" fill="#1a1a1a" stroke="#1a1a1a" stroke-width="0.40">1</text>
<text x="53.4" y="768.7" font-size="20" text-anchor="end" fill="#1a1a1a" stroke="#1a1a1a" stroke-width="0.40">2</text>
<text x="53.4" y="717.4" font-size="20" text-anchor="end" fill="#1a1a1a" stroke="#1a1a1a" stroke-width="0.40">3</text>
<text x="53.4" y="666.1" font-size="20" text-anchor="end" fill="#1a1a1a" stroke="#1a1a1a" stroke-width="0.40">4</text>
<text x="53.4" y="614.8" font-size="20" text-anchor="end" fill="#1a1a1a" stroke="#1a1a1a" stroke-width="0.40">5</text>
<text x="53.4" y="563.6" font-size="20" text-anchor="end" fill="#1a1a1a" stroke="#1a1a1a" stroke-width="0.40">6</text>
<text x="53.4" y="512.3" font-size="20" text-anchor="end" fill="#1a1a1a" stroke="#1a1a1a" stroke-width="0.40">7</text>
<path d="M75.6 863.3 v-5.4 M75.6 504.4 v5.4 M142.1 863.3 v-5.4 M142.1 504.4 v5.4 M208.5 863.3 v-5.4 M208.5 504.4 v5.4 M275.0 863.3 v-5.4 M275.0 504.4 v5.4 M341.5 863.3 v-5.4 M341.5 504.4 v5.4 M407.9 863.3 v-5.4 M407.9 504.4 v5.4 M474.4 863.3 v-5.4 M474.4 504.4 v5.4 M540.8 863.3 v-5.4 M540.8 504.4 v5.4 M607.3 863.3 v-5.4 M607.3 504.4 v5.4 M61.0 812.0 h5.4 M620.5 812.0 h-5.4 M61.0 760.8 h5.4 M620.5 760.8 h-5.4 M61.0 709.5 h5.4 M620.5 709.5 h-5.4 M61.0 658.2 h5.4 M620.5 658.2 h-5.4 M61.0 606.9 h5.4 M620.5 606.9 h-5.4 M61.0 555.7 h5.4 M620.5 555.7 h-5.4 " stroke="#7a7a7a" stroke-width="1" fill="none"/>
<linearGradient id="gbb" gradientUnits="userSpaceOnUse" x1="69.0" y1="0" x2="620.5" y2="0"><stop offset="0" stop-color="#8088e0"/><stop offset="0.45" stop-color="#8c90dc"/><stop offset="0.62" stop-color="#999"/><stop offset="0.75" stop-color="#f0a070"/><stop offset="1" stop-color="#f09060"/></linearGradient>
<path d="M69.0 863.3 H620.5 M142.1 863.3 v-5.4 M208.5 863.3 v-5.4 M275.0 863.3 v-5.4 M341.5 863.3 v-5.4 M407.9 863.3 v-5.4 M474.4 863.3 v-5.4 M540.8 863.3 v-5.4 M607.3 863.3 v-5.4 " stroke="#fff" stroke-width="1.6" fill="none"/><path d="M69.0 863.3 H620.5 M142.1 863.3 v-5.4 M208.5 863.3 v-5.4 M275.0 863.3 v-5.4 M341.5 863.3 v-5.4 M407.9 863.3 v-5.4 M474.4 863.3 v-5.4 M540.8 863.3 v-5.4 M607.3 863.3 v-5.4 " stroke="url(#gbb)" stroke-width="1" fill="none"/>
<text x="58.2" y="476.5" font-size="32.2" fill="#000" stroke="#000" stroke-width="0.55">(b) cumulative land carbon uptake</text>
<text transform="translate(19.9 687.0) rotate(-90)" font-size="27.3" text-anchor="middle" fill="#000" stroke="#000" stroke-width="0.55">surface warming Δ<tspan font-style="italic">T</tspan> (K)</text>
<text font-size="27.5" fill="#000" stroke="#000" stroke-width="0.55"><tspan x="198.3" y="930">atmospheric CO</tspan><tspan x="397.3" y="940.6" font-size="15">2</tspan><tspan x="413.5" y="930">(ppm)</tspan></text>
<rect x="638.3" y="859.81" width="38.8" height="4.99" fill="#000087"/>
<rect x="638.3" y="854.82" width="38.8" height="5.59" fill="#000097"/>
<rect x="638.3" y="849.83" width="38.8" height="5.59" fill="#0000a7"/>
<rect x="638.3" y="844.84" width="38.8" height="5.59" fill="#0000b7"/>
<rect x="638.3" y="839.85" width="38.8" height="5.59" fill="#0000c7"/>
<rect x="638.3" y="834.86" width="38.8" height="5.59" fill="#0000d7"/>
<rect x="638.3" y="829.87" width="38.8" height="5.59" fill="#0000e7"/>
<rect x="638.3" y="824.88" width="38.8" height="5.59" fill="#0000f7"/>
<rect x="638.3" y="819.88" width="38.8" height="5.59" fill="#0008ff"/>
<rect x="638.3" y="814.89" width="38.8" height="5.59" fill="#0018ff"/>
<rect x="638.3" y="809.90" width="38.8" height="5.59" fill="#0028ff"/>
<rect x="638.3" y="804.91" width="38.8" height="5.59" fill="#0038ff"/>
<rect x="638.3" y="799.92" width="38.8" height="5.59" fill="#0048ff"/>
<rect x="638.3" y="794.93" width="38.8" height="5.59" fill="#0058ff"/>
<rect x="638.3" y="789.94" width="38.8" height="5.59" fill="#0068ff"/>
<rect x="638.3" y="784.95" width="38.8" height="5.59" fill="#0078ff"/>
<rect x="638.3" y="779.96" width="38.8" height="5.59" fill="#0087ff"/>
<rect x="638.3" y="774.97" width="38.8" height="5.59" fill="#0097ff"/>
<rect x="638.3" y="769.98" width="38.8" height="5.59" fill="#00a7ff"/>
<rect x="638.3" y="764.99" width="38.8" height="5.59" fill="#00b7ff"/>
<rect x="638.3" y="760.00" width="38.8" height="5.59" fill="#00c7ff"/>
<rect x="638.3" y="755.01" width="38.8" height="5.59" fill="#00d7ff"/>
<rect x="638.3" y="750.02" width="38.8" height="5.59" fill="#00e7ff"/>
<rect x="638.3" y="745.02" width="38.8" height="5.59" fill="#00f7ff"/>
<rect x="638.3" y="740.03" width="38.8" height="5.59" fill="#08fff7"/>
<rect x="638.3" y="735.04" width="38.8" height="5.59" fill="#18ffe7"/>
<rect x="638.3" y="730.05" width="38.8" height="5.59" fill="#28ffd7"/>
<rect x="638.3" y="725.06" width="38.8" height="5.59" fill="#38ffc7"/>
<rect x="638.3" y="720.07" width="38.8" height="5.59" fill="#48ffb7"/>
<rect x="638.3" y="715.08" width="38.8" height="5.59" fill="#58ffa7"/>
<rect x="638.3" y="710.09" width="38.8" height="5.59" fill="#68ff97"/>
<rect x="638.3" y="705.10" width="38.8" height="5.59" fill="#78ff87"/>
<rect x="638.3" y="700.11" width="38.8" height="5.59" fill="#87ff78"/>
<rect x="638.3" y="695.12" width="38.8" height="5.59" fill="#97ff68"/>
<rect x="638.3" y="690.13" width="38.8" height="5.59" fill="#a7ff58"/>
<rect x="638.3" y="685.14" width="38.8" height="5.59" fill="#b7ff48"/>
<rect x="638.3" y="680.15" width="38.8" height="5.59" fill="#c7ff38"/>
<rect x="638.3" y="675.16" width="38.8" height="5.59" fill="#d7ff28"/>
<rect x="638.3" y="670.17" width="38.8" height="5.59" fill="#e7ff18"/>
<rect x="638.3" y="665.17" width="38.8" height="5.59" fill="#f7ff08"/>
<rect x="638.3" y="660.18" width="38.8" height="5.59" fill="#fff700"/>
<rect x="638.3" y="655.19" width="38.8" height="5.59" fill="#ffe700"/>
<rect x="638.3" y="650.20" width="38.8" height="5.59" fill="#ffd700"/>
<rect x="638.3" y="645.21" width="38.8" height="5.59" fill="#ffc700"/>
<rect x="638.3" y="640.22" width="38.8" height="5.59" fill="#ffb700"/>
<rect x="638.3" y="635.23" width="38.8" height="5.59" fill="#ffa700"/>
<rect x="638.3" y="630.24" width="38.8" height="5.59" fill="#ff9700"/>
<rect x="638.3" y="625.25" width="38.8" height="5.59" fill="#ff8700"/>
<rect x="638.3" y="620.26" width="38.8" height="5.59" fill="#ff7800"/>
<rect x="638.3" y="615.27" width="38.8" height="5.59" fill="#ff6800"/>
<rect x="638.3" y="610.28" width="38.8" height="5.59" fill="#ff5800"/>
<rect x="638.3" y="605.29" width="38.8" height="5.59" fill="#ff4800"/>
<rect x="638.3" y="600.30" width="38.8" height="5.59" fill="#ff3800"/>
<rect x="638.3" y="595.31" width="38.8" height="5.59" fill="#ff2800"/>
<rect x="638.3" y="590.32" width="38.8" height="5.59" fill="#ff1800"/>
<rect x="638.3" y="585.33" width="38.8" height="5.59" fill="#ff0800"/>
<rect x="638.3" y="580.33" width="38.8" height="5.59" fill="#f70000"/>
<rect x="638.3" y="575.34" width="38.8" height="5.59" fill="#e70000"/>
<rect x="638.3" y="570.35" width="38.8" height="5.59" fill="#d70000"/>
<rect x="638.3" y="565.36" width="38.8" height="5.59" fill="#c70000"/>
<rect x="638.3" y="560.37" width="38.8" height="5.59" fill="#b70000"/>
<rect x="638.3" y="555.38" width="38.8" height="5.59" fill="#a70000"/>
<rect x="638.3" y="550.39" width="38.8" height="5.59" fill="#970000"/>
<rect x="638.3" y="545.40" width="38.8" height="5.59" fill="#870000"/>
<text x="683.3" y="871.4" font-size="18" fill="#1a1a1a" stroke="#1a1a1a" stroke-width="0.40">0</text>
<text x="683.3" y="807.5" font-size="18" fill="#1a1a1a" stroke="#1a1a1a" stroke-width="0.40">100</text>
<text x="683.3" y="743.6" font-size="18" fill="#1a1a1a" stroke="#1a1a1a" stroke-width="0.40">200</text>
<text x="683.3" y="679.8" font-size="18" fill="#1a1a1a" stroke="#1a1a1a" stroke-width="0.40">300</text>
<text x="683.3" y="615.9" font-size="18" fill="#1a1a1a" stroke="#1a1a1a" stroke-width="0.40">400</text>
<text x="683.3" y="552.0" font-size="18" fill="#1a1a1a" stroke="#1a1a1a" stroke-width="0.40">500</text>
<text x="633.2" y="524.0" font-size="19.3" fill="#000" stroke="#000" stroke-width="0.40">(PgC)</text>
<mask id="clipc" maskUnits="userSpaceOnUse" x="0" y="400" width="1519" height="540"><path d="M869.5 869.7 L874.2 866.5 L878.9 863.3 L883.5 860.0 L888.2 856.7 L892.9 853.2 L897.6 849.8 L902.3 846.3 L907.0 842.7 L911.7 839.1 L916.3 835.4 L921.0 831.6 L925.7 827.8 L930.4 823.9 L935.1 820.0 L939.8 816.2 L944.5 812.4 L949.2 808.6 L953.8 804.8 L958.5 801.1 L963.2 797.4 L967.9 793.7 L972.6 790.0 L977.3 786.3 L982.0 782.7 L986.6 779.1 L991.3 775.5 L996.0 771.9 L1000.7 768.4 L1005.4 764.9 L1010.1 761.4 L1014.8 758.0 L1019.4 754.6 L1024.1 751.2 L1028.8 747.9 L1033.5 744.5 L1038.2 741.2 L1042.9 737.9 L1047.6 734.6 L1052.3 731.3 L1056.9 728.1 L1061.6 724.8 L1066.3 721.6 L1071.0 718.4 L1075.7 715.1 L1080.4 711.9 L1085.1 708.7 L1089.7 705.5 L1094.4 702.3 L1099.1 699.1 L1103.8 696.0 L1108.5 692.8 L1113.2 689.7 L1117.9 686.6 L1122.5 683.5 L1127.2 680.4 L1131.9 677.4 L1136.6 674.3 L1141.3 671.4 L1146.0 668.4 L1150.7 665.5 L1155.4 662.6 L1160.0 659.7 L1164.7 656.8 L1169.4 654.0 L1174.1 651.2 L1178.8 648.4 L1183.5 645.6 L1188.2 642.9 L1192.8 640.1 L1197.5 637.4 L1202.2 634.7 L1206.9 632.1 L1211.6 629.4 L1216.3 626.8 L1221.0 624.2 L1225.6 621.7 L1230.3 619.2 L1235.0 616.7 L1239.7 614.2 L1244.4 611.8 L1249.1 609.3 L1253.8 606.9 L1258.5 604.5 L1263.1 602.1 L1267.8 599.7 L1272.5 597.3 L1277.2 594.9 L1281.9 592.4 L1286.6 590.0 L1291.3 587.5 L1295.9 585.0 L1300.6 582.4 L1305.3 579.9 L1310.0 577.3 L1314.7 574.8 L1319.4 572.3 L1324.1 569.8 L1328.7 567.3 L1333.4 564.8 L1338.1 562.4 L1342.8 560.1 L1347.5 557.8 L1352.2 555.6 L1356.9 553.3 L1361.6 551.1 L1366.2 549.0 L1370.9 546.8 L1375.6 544.7 L1380.3 542.5 L1385.0 540.4 L1389.7 538.4 L1394.4 536.3 L1399.0 534.3 L1403.7 532.3 L1408.4 530.4 L1413.1 528.4 L1417.8 526.5 L1422.5 524.7 L1427.2 522.8 L1427.2 713.9 L1422.5 714.7 L1417.8 715.5 L1413.1 716.4 L1408.4 717.2 L1403.7 718.1 L1399.0 718.9 L1394.4 719.7 L1389.7 720.6 L1385.0 721.4 L1380.3 722.3 L1375.6 723.1 L1370.9 724.0 L1366.2 724.8 L1361.6 725.7 L1356.9 726.6 L1352.2 727.4 L1347.5 728.3 L1342.8 729.1 L1338.1 730.0 L1333.4 730.9 L1328.7 731.7 L1324.1 732.6 L1319.4 733.4 L1314.7 734.3 L1310.0 735.2 L1305.3 736.0 L1300.6 736.9 L1295.9 737.8 L1291.3 738.8 L1286.6 739.7 L1281.9 740.6 L1277.2 741.6 L1272.5 742.6 L1267.8 743.6 L1263.1 744.6 L1258.5 745.7 L1253.8 746.7 L1249.1 747.7 L1244.4 748.8 L1239.7 749.9 L1235.0 750.9 L1230.3 752.0 L1225.6 753.1 L1221.0 754.2 L1216.3 755.3 L1211.6 756.3 L1206.9 757.4 L1202.2 758.5 L1197.5 759.6 L1192.8 760.7 L1188.2 761.8 L1183.5 762.9 L1178.8 764.0 L1174.1 765.2 L1169.4 766.3 L1164.7 767.4 L1160.0 768.6 L1155.4 769.8 L1150.7 771.0 L1146.0 772.2 L1141.3 773.4 L1136.6 774.7 L1131.9 775.9 L1127.2 777.2 L1122.5 778.5 L1117.9 779.8 L1113.2 781.2 L1108.5 782.5 L1103.8 783.9 L1099.1 785.2 L1094.4 786.6 L1089.7 788.0 L1085.1 789.4 L1080.4 790.8 L1075.7 792.2 L1071.0 793.6 L1066.3 795.1 L1061.6 796.5 L1056.9 798.0 L1052.3 799.5 L1047.6 801.0 L1042.9 802.5 L1038.2 804.0 L1033.5 805.6 L1028.8 807.1 L1024.1 808.7 L1019.4 810.3 L1014.8 811.8 L1010.1 813.4 L1005.4 815.0 L1000.7 816.6 L996.0 818.2 L991.3 819.8 L986.6 821.5 L982.0 823.2 L977.3 824.8 L972.6 826.5 L967.9 828.3 L963.2 830.0 L958.5 831.8 L953.8 833.5 L949.2 835.3 L944.5 837.2 L939.8 839.1 L935.1 841.0 L930.4 843.0 L925.7 845.0 L921.0 847.0 L916.3 849.1 L911.7 851.1 L907.0 853.2 L902.3 855.2 L897.6 857.3 L892.9 859.3 L888.2 861.4 L883.5 863.5 L878.9 865.5 L874.2 867.6 L869.5 869.7Z" fill="#fff"/></mask>
<g mask="url(#clipc)">
<path d="M869.5 869.7 L874.2 866.5 L878.9 863.3 L883.5 860.0 L888.2 856.7 L892.9 853.2 L897.6 849.8 L902.3 846.3 L907.0 842.7 L911.7 839.1 L916.3 835.4 L921.0 831.6 L925.7 827.8 L930.4 823.9 L935.1 820.0 L939.8 816.2 L944.5 812.4 L949.2 808.6 L953.8 804.8 L958.5 801.1 L963.2 797.4 L967.9 793.7 L972.6 790.0 L977.3 786.3 L982.0 782.7 L986.6 779.1 L991.3 775.5 L996.0 771.9 L1000.7 768.4 L1005.4 764.9 L1010.1 761.4 L1014.8 758.0 L1019.4 754.6 L1024.1 751.2 L1028.8 747.9 L1033.5 744.5 L1038.2 741.2 L1042.9 737.9 L1047.6 734.6 L1052.3 731.3 L1056.9 728.1 L1061.6 724.8 L1066.3 721.6 L1071.0 718.4 L1075.7 715.1 L1080.4 711.9 L1085.1 708.7 L1089.7 705.5 L1094.4 702.3 L1099.1 699.1 L1103.8 696.0 L1108.5 692.8 L1113.2 689.7 L1117.9 686.6 L1122.5 683.5 L1127.2 680.4 L1131.9 677.4 L1136.6 674.3 L1141.3 671.4 L1146.0 668.4 L1150.7 665.5 L1155.4 662.6 L1160.0 659.7 L1164.7 656.8 L1169.4 654.0 L1174.1 651.2 L1178.8 648.4 L1183.5 645.6 L1188.2 642.9 L1192.8 640.1 L1197.5 637.4 L1202.2 634.7 L1206.9 632.1 L1211.6 629.4 L1216.3 626.8 L1221.0 624.2 L1225.6 621.7 L1230.3 619.2 L1235.0 616.7 L1239.7 614.2 L1244.4 611.8 L1249.1 609.3 L1253.8 606.9 L1258.5 604.5 L1263.1 602.1 L1267.8 599.7 L1272.5 597.3 L1277.2 594.9 L1281.9 592.4 L1286.6 590.0 L1291.3 587.5 L1295.9 585.0 L1300.6 582.4 L1305.3 579.9 L1310.0 577.3 L1314.7 574.8 L1319.4 572.3 L1324.1 569.8 L1328.7 567.3 L1333.4 564.8 L1338.1 562.4 L1342.8 560.1 L1347.5 557.8 L1352.2 555.6 L1356.9 553.3 L1361.6 551.1 L1366.2 549.0 L1370.9 546.8 L1375.6 544.7 L1380.3 542.5 L1385.0 540.4 L1389.7 538.4 L1394.4 536.3 L1399.0 534.3 L1403.7 532.3 L1408.4 530.4 L1413.1 528.4 L1417.8 526.5 L1422.5 524.7 L1427.2 522.8 L1427.2 713.9 L1422.5 714.7 L1417.8 715.5 L1413.1 716.4 L1408.4 717.2 L1403.7 718.1 L1399.0 718.9 L1394.4 719.7 L1389.7 720.6 L1385.0 721.4 L1380.3 722.3 L1375.6 723.1 L1370.9 724.0 L1366.2 724.8 L1361.6 725.7 L1356.9 726.6 L1352.2 727.4 L1347.5 728.3 L1342.8 729.1 L1338.1 730.0 L1333.4 730.9 L1328.7 731.7 L1324.1 732.6 L1319.4 733.4 L1314.7 734.3 L1310.0 735.2 L1305.3 736.0 L1300.6 736.9 L1295.9 737.8 L1291.3 738.8 L1286.6 739.7 L1281.9 740.6 L1277.2 741.6 L1272.5 742.6 L1267.8 743.6 L1263.1 744.6 L1258.5 745.7 L1253.8 746.7 L1249.1 747.7 L1244.4 748.8 L1239.7 749.9 L1235.0 750.9 L1230.3 752.0 L1225.6 753.1 L1221.0 754.2 L1216.3 755.3 L1211.6 756.3 L1206.9 757.4 L1202.2 758.5 L1197.5 759.6 L1192.8 760.7 L1188.2 761.8 L1183.5 762.9 L1178.8 764.0 L1174.1 765.2 L1169.4 766.3 L1164.7 767.4 L1160.0 768.6 L1155.4 769.8 L1150.7 771.0 L1146.0 772.2 L1141.3 773.4 L1136.6 774.7 L1131.9 775.9 L1127.2 777.2 L1122.5 778.5 L1117.9 779.8 L1113.2 781.2 L1108.5 782.5 L1103.8 783.9 L1099.1 785.2 L1094.4 786.6 L1089.7 788.0 L1085.1 789.4 L1080.4 790.8 L1075.7 792.2 L1071.0 793.6 L1066.3 795.1 L1061.6 796.5 L1056.9 798.0 L1052.3 799.5 L1047.6 801.0 L1042.9 802.5 L1038.2 804.0 L1033.5 805.6 L1028.8 807.1 L1024.1 808.7 L1019.4 810.3 L1014.8 811.8 L1010.1 813.4 L1005.4 815.0 L1000.7 816.6 L996.0 818.2 L991.3 819.8 L986.6 821.5 L982.0 823.2 L977.3 824.8 L972.6 826.5 L967.9 828.3 L963.2 830.0 L958.5 831.8 L953.8 833.5 L949.2 835.3 L944.5 837.2 L939.8 839.1 L935.1 841.0 L930.4 843.0 L925.7 845.0 L921.0 847.0 L916.3 849.1 L911.7 851.1 L907.0 853.2 L902.3 855.2 L897.6 857.3 L892.9 859.3 L888.2 861.4 L883.5 863.5 L878.9 865.5 L874.2 867.6 L869.5 869.7Z" fill="#000087"/>
<path d="M883.9 921.5 L885.9 880.1 L888.6 869.7 L891.1 859.3 L893.6 849.0 L896.1 838.6 L898.6 828.3 L900.6 455.5 L1547.4 455.5 L1547.4 921.5 Z" fill="#000097"/>
<path d="M900.0 921.5 L902.0 880.1 L904.3 869.7 L906.6 859.3 L908.8 849.0 L910.9 838.6 L913.2 828.3 L915.2 817.9 L917.2 455.5 L1547.4 455.5 L1547.4 921.5 Z" fill="#0000a7"/>
<path d="M916.2 921.5 L918.2 869.7 L920.2 859.3 L922.2 849.0 L924.3 838.6 L926.1 828.3 L928.2 817.9 L930.0 807.6 L932.0 797.2 L934.0 455.5 L1547.4 455.5 L1547.4 921.5 Z" fill="#0000b7"/>
<path d="M930.9 921.5 L932.9 859.3 L934.7 849.0 L936.6 838.6 L938.4 828.3 L940.2 817.9 L942.0 807.6 L943.8 797.2 L945.6 786.9 L947.6 455.5 L1547.4 455.5 L1547.4 921.5 Z" fill="#0000c7"/>
<path d="M942.7 921.5 L944.7 859.3 L946.6 849.0 L948.1 838.6 L950.0 828.3 L951.8 817.9 L953.4 807.6 L955.2 797.2 L956.8 786.9 L958.6 776.5 L960.6 455.5 L1547.4 455.5 L1547.4 921.5 Z" fill="#0000d7"/>
<path d="M955.7 921.5 L957.7 849.0 L959.3 838.6 L961.1 828.3 L962.7 817.9 L964.3 807.6 L965.9 797.2 L967.7 786.9 L969.3 776.5 L970.9 766.2 L972.9 455.5 L1547.4 455.5 L1547.4 921.5 Z" fill="#0000e7"/>
<path d="M966.4 921.5 L968.4 849.0 L970.0 838.6 L971.5 828.3 L973.4 817.9 L974.9 807.6 L976.5 797.2 L978.1 786.9 L979.7 776.5 L981.3 766.2 L983.3 455.5 L1547.4 455.5 L1547.4 921.5 Z" fill="#0000e7"/>
<path d="M976.8 921.5 L978.8 849.0 L980.4 838.6 L982.0 828.3 L983.6 817.9 L985.2 807.6 L986.8 797.2 L988.4 786.9 L989.7 776.5 L991.3 766.2 L992.9 755.8 L994.9 455.5 L1547.4 455.5 L1547.4 921.5 Z" fill="#0000f7"/>
<path d="M988.6 921.5 L990.6 838.6 L992.0 828.3 L993.6 817.9 L994.9 807.6 L996.5 797.2 L997.9 786.9 L999.3 776.5 L1000.6 766.2 L1002.0 755.8 L1003.3 745.5 L1005.3 455.5 L1547.4 455.5 L1547.4 921.5 Z" fill="#0008ff"/>
<path d="M997.9 921.5 L999.9 838.6 L1001.3 828.3 L1002.7 817.9 L1004.0 807.6 L1005.4 797.2 L1006.5 786.9 L1007.9 776.5 L1009.2 766.2 L1010.4 755.8 L1011.7 745.5 L1012.9 735.1 L1014.9 455.5 L1547.4 455.5 L1547.4 921.5 Z" fill="#0018ff"/>
<path d="M1006.6 921.5 L1008.6 838.6 L1009.7 828.3 L1011.1 817.9 L1012.2 807.6 L1013.6 797.2 L1014.7 786.9 L1016.1 776.5 L1017.2 766.2 L1018.3 755.8 L1019.5 745.5 L1020.8 735.1 L1022.8 455.5 L1547.4 455.5 L1547.4 921.5 Z" fill="#0028ff"/>
<path d="M1015.7 921.5 L1017.7 828.3 L1019.0 817.9 L1020.2 807.6 L1021.3 797.2 L1022.4 786.9 L1023.6 776.5 L1024.9 766.2 L1026.1 755.8 L1027.2 745.5 L1028.3 735.1 L1029.5 724.7 L1031.5 455.5 L1547.4 455.5 L1547.4 921.5 Z" fill="#0038ff"/>
<path d="M1023.4 921.5 L1025.4 828.3 L1026.5 817.9 L1027.6 807.6 L1028.8 797.2 L1029.9 786.9 L1031.1 776.5 L1032.2 766.2 L1033.3 755.8 L1034.5 745.5 L1035.6 735.1 L1036.7 724.7 L1038.7 455.5 L1547.4 455.5 L1547.4 921.5 Z" fill="#0048ff"/>
<path d="M1030.9 921.5 L1032.9 828.3 L1034.0 817.9 L1034.9 807.6 L1036.1 797.2 L1037.2 786.9 L1038.3 776.5 L1039.5 766.2 L1040.6 755.8 L1041.7 745.5 L1042.9 735.1 L1043.8 724.7 L1044.9 714.4 L1046.9 455.5 L1547.4 455.5 L1547.4 921.5 Z" fill="#0058ff"/>
<path d="M1037.9 921.5 L1039.9 828.3 L1041.1 817.9 L1042.2 807.6 L1043.3 797.2 L1044.5 786.9 L1045.6 776.5 L1046.5 766.2 L1047.6 755.8 L1048.8 745.5 L1049.9 735.1 L1051.0 724.7 L1052.0 714.4 L1054.0 455.5 L1547.4 455.5 L1547.4 921.5 Z" fill="#0068ff"/>
<path d="M1046.3 921.5 L1048.3 817.9 L1049.2 807.6 L1050.4 797.2 L1051.5 786.9 L1052.6 776.5 L1053.8 766.2 L1054.7 755.8 L1055.8 745.5 L1057.0 735.1 L1058.1 724.7 L1059.2 714.4 L1060.1 704.0 L1062.1 455.5 L1547.4 455.5 L1547.4 921.5 Z" fill="#0078ff"/>
<path d="M1053.4 921.5 L1055.4 817.9 L1056.5 807.6 L1057.4 797.2 L1058.5 786.9 L1059.7 776.5 L1060.8 766.2 L1061.7 755.8 L1062.9 745.5 L1064.0 735.1 L1064.9 724.7 L1066.0 714.4 L1067.2 704.0 L1069.2 455.5 L1547.4 455.5 L1547.4 921.5 Z" fill="#0087ff"/>
<path d="M1060.4 921.5 L1062.4 817.9 L1063.3 807.6 L1064.4 797.2 L1065.6 786.9 L1066.5 776.5 L1067.6 766.2 L1068.5 755.8 L1069.7 745.5 L1070.6 735.1 L1071.7 724.7 L1072.6 714.4 L1073.8 704.0 L1074.7 693.7 L1076.7 455.5 L1547.4 455.5 L1547.4 921.5 Z" fill="#0097ff"/>
<path d="M1067.2 921.5 L1069.2 817.9 L1070.1 807.6 L1071.3 797.2 L1072.2 786.9 L1073.1 776.5 L1074.2 766.2 L1075.1 755.8 L1076.3 745.5 L1077.2 735.1 L1078.1 724.7 L1079.2 714.4 L1080.1 704.0 L1081.0 693.7 L1083.0 455.5 L1547.4 455.5 L1547.4 921.5 Z" fill="#00a7ff"/>
<path d="M1073.6 921.5 L1075.6 817.9 L1076.7 807.6 L1077.6 797.2 L1078.5 786.9 L1079.7 776.5 L1080.6 766.2 L1081.5 755.8 L1082.6 745.5 L1083.5 735.1 L1084.4 724.7 L1085.3 714.4 L1086.5 704.0 L1087.4 693.7 L1088.3 683.3 L1090.3 455.5 L1547.4 455.5 L1547.4 921.5 Z" fill="#00a7ff"/>
<path d="M1081.1 921.5 L1083.1 807.6 L1084.0 797.2 L1084.9 786.9 L1086.0 776.5 L1086.9 766.2 L1087.8 755.8 L1088.8 745.5 L1089.9 735.1 L1090.8 724.7 L1091.7 714.4 L1092.6 704.0 L1093.8 693.7 L1094.7 683.3 L1096.7 455.5 L1547.4 455.5 L1547.4 921.5 Z" fill="#00b7ff"/>
<path d="M1087.2 921.5 L1089.2 807.6 L1090.3 797.2 L1091.3 786.9 L1092.2 776.5 L1093.1 766.2 L1094.2 755.8 L1095.1 745.5 L1096.0 735.1 L1096.9 724.7 L1098.1 714.4 L1099.0 704.0 L1099.9 693.7 L1100.8 683.3 L1101.9 673.0 L1103.9 455.5 L1547.4 455.5 L1547.4 921.5 Z" fill="#00c7ff"/>
<path d="M1093.6 921.5 L1095.6 807.6 L1096.5 797.2 L1097.4 786.9 L1098.5 776.5 L1099.4 766.2 L1100.3 755.8 L1101.2 745.5 L1102.4 735.1 L1103.3 724.7 L1104.2 714.4 L1105.3 704.0 L1106.2 693.7 L1107.2 683.3 L1108.3 673.0 L1110.3 455.5 L1547.4 455.5 L1547.4 921.5 Z" fill="#00d7ff"/>
<path d="M1099.9 921.5 L1101.9 807.6 L1102.8 797.2 L1103.7 786.9 L1104.7 776.5 L1105.8 766.2 L1106.7 755.8 L1107.8 745.5 L1108.7 735.1 L1109.7 724.7 L1110.8 714.4 L1111.7 704.0 L1112.8 693.7 L1113.7 683.3 L1114.6 673.0 L1115.8 662.6 L1117.8 455.5 L1547.4 455.5 L1547.4 921.5 Z" fill="#00e7ff"/>
<path d="M1106.3 921.5 L1108.3 807.6 L1109.2 797.2 L1110.1 786.9 L1111.2 776.5 L1112.2 766.2 L1113.3 755.8 L1114.2 745.5 L1115.3 735.1 L1116.2 724.7 L1117.4 714.4 L1118.3 704.0 L1119.4 693.7 L1120.3 683.3 L1121.5 673.0 L1122.6 662.6 L1124.6 455.5 L1547.4 455.5 L1547.4 921.5 Z" fill="#00f7ff"/>
<path d="M1113.8 921.5 L1115.8 797.2 L1116.7 786.9 L1117.8 776.5 L1119.0 766.2 L1119.9 755.8 L1121.0 745.5 L1121.9 735.1 L1123.1 724.7 L1124.0 714.4 L1125.1 704.0 L1126.2 693.7 L1127.1 683.3 L1128.3 673.0 L1129.4 662.6 L1131.4 455.5 L1547.4 455.5 L1547.4 921.5 Z" fill="#08fff7"/>
<path d="M1120.6 921.5 L1122.6 797.2 L1123.5 786.9 L1124.6 776.5 L1125.6 766.2 L1126.7 755.8 L1127.8 745.5 L1128.7 735.1 L1129.9 724.7 L1131.0 714.4 L1131.9 704.0 L1133.0 693.7 L1134.2 683.3 L1135.1 673.0 L1136.2 662.6 L1137.4 652.3 L1139.4 455.5 L1547.4 455.5 L1547.4 921.5 Z" fill="#18ffe7"/>
<path d="M1127.4 921.5 L1129.4 797.2 L1130.3 786.9 L1131.5 776.5 L1132.6 766.2 L1133.5 755.8 L1134.6 745.5 L1135.8 735.1 L1136.7 724.7 L1137.8 714.4 L1139.0 704.0 L1139.9 693.7 L1141.0 683.3 L1142.1 673.0 L1143.3 662.6 L1144.2 652.3 L1146.2 455.5 L1547.4 455.5 L1547.4 921.5 Z" fill="#28ffd7"/>
<path d="M1134.2 921.5 L1136.2 797.2 L1137.4 786.9 L1138.3 776.5 L1139.4 766.2 L1140.5 755.8 L1141.5 745.5 L1142.6 735.1 L1143.7 724.7 L1144.9 714.4 L1145.8 704.0 L1146.9 693.7 L1148.0 683.3 L1149.2 673.0 L1150.1 662.6 L1151.2 652.3 L1152.4 641.9 L1154.4 455.5 L1547.4 455.5 L1547.4 921.5 Z" fill="#38ffc7"/>
<path d="M1141.3 921.5 L1143.3 797.2 L1144.2 786.9 L1145.3 776.5 L1146.5 766.2 L1147.6 755.8 L1148.5 745.5 L1149.6 735.1 L1150.8 724.7 L1151.9 714.4 L1152.8 704.0 L1153.9 693.7 L1155.1 683.3 L1156.2 673.0 L1157.1 662.6 L1158.3 652.3 L1159.4 641.9 L1161.4 455.5 L1547.4 455.5 L1547.4 921.5 Z" fill="#48ffb7"/>
<path d="M1149.2 921.5 L1151.2 786.9 L1152.4 776.5 L1153.5 766.2 L1154.4 755.8 L1155.5 745.5 L1156.7 735.1 L1157.8 724.7 L1158.9 714.4 L1159.9 704.0 L1161.0 693.7 L1162.1 683.3 L1163.3 673.0 L1164.2 662.6 L1165.3 652.3 L1166.4 641.9 L1167.6 631.6 L1169.6 455.5 L1547.4 455.5 L1547.4 921.5 Z" fill="#58ffa7"/>
<path d="M1156.3 921.5 L1158.3 786.9 L1159.4 776.5 L1160.5 766.2 L1161.4 755.8 L1162.6 745.5 L1163.7 735.1 L1164.9 724.7 L1165.8 714.4 L1166.9 704.0 L1168.0 693.7 L1169.2 683.3 L1170.3 673.0 L1171.2 662.6 L1172.3 652.3 L1173.5 641.9 L1174.6 631.6 L1176.6 455.5 L1547.4 455.5 L1547.4 921.5 Z" fill="#68ff97"/>
<path d="M1163.3 921.5 L1165.3 786.9 L1166.4 776.5 L1167.6 766.2 L1168.5 755.8 L1169.6 745.5 L1170.8 735.1 L1171.9 724.7 L1172.8 714.4 L1173.9 704.0 L1175.1 693.7 L1176.2 683.3 L1177.1 673.0 L1178.3 662.6 L1179.4 652.3 L1180.5 641.9 L1181.4 631.6 L1182.6 621.2 L1184.6 455.5 L1547.4 455.5 L1547.4 921.5 Z" fill="#68ff97"/>
<path d="M1170.3 921.5 L1172.3 786.9 L1173.5 776.5 L1174.6 766.2 L1175.5 755.8 L1176.7 745.5 L1177.8 735.1 L1178.9 724.7 L1179.8 714.4 L1181.0 704.0 L1182.1 693.7 L1183.0 683.3 L1184.2 673.0 L1185.3 662.6 L1186.4 652.3 L1187.3 641.9 L1188.5 631.6 L1189.6 621.2 L1191.6 455.5 L1547.4 455.5 L1547.4 921.5 Z" fill="#78ff87"/>
<path d="M1177.4 921.5 L1179.4 786.9 L1180.5 776.5 L1181.4 766.2 L1182.6 755.8 L1183.7 745.5 L1184.8 735.1 L1185.7 724.7 L1186.9 714.4 L1188.0 704.0 L1188.9 693.7 L1190.1 683.3 L1191.2 673.0 L1192.3 662.6 L1193.2 652.3 L1194.4 641.9 L1195.5 631.6 L1196.4 621.2 L1198.4 455.5 L1547.4 455.5 L1547.4 921.5 Z" fill="#87ff78"/>
<path d="M1184.4 921.5 L1186.4 786.9 L1187.3 776.5 L1188.5 766.2 L1189.6 755.8 L1190.5 745.5 L1191.7 735.1 L1192.8 724.7 L1193.9 714.4 L1194.8 704.0 L1196.0 693.7 L1197.1 683.3 L1198.0 673.0 L1199.2 662.6 L1200.3 652.3 L1201.4 641.9 L1202.3 631.6 L1203.5 621.2 L1204.6 610.9 L1206.6 455.5 L1547.4 455.5 L1547.4 921.5 Z" fill="#97ff68"/>
<path d="M1192.4 921.5 L1194.4 776.5 L1195.5 766.2 L1196.4 755.8 L1197.6 745.5 L1198.7 735.1 L1199.6 724.7 L1200.7 714.4 L1201.9 704.0 L1203.0 693.7 L1203.9 683.3 L1205.1 673.0 L1206.2 662.6 L1207.3 652.3 L1208.2 641.9 L1209.4 631.6 L1210.5 621.2 L1211.4 610.9 L1213.4 455.5 L1547.4 455.5 L1547.4 921.5 Z" fill="#a7ff58"/>
<path d="M1199.4 921.5 L1201.4 776.5 L1202.3 766.2 L1203.5 755.8 L1204.6 745.5 L1205.5 735.1 L1206.6 724.7 L1207.8 714.4 L1208.9 704.0 L1209.8 693.7 L1211.0 683.3 L1212.1 673.0 L1213.2 662.6 L1214.1 652.3 L1215.3 641.9 L1216.4 631.6 L1217.6 621.2 L1218.5 610.9 L1219.6 600.5 L1221.6 455.5 L1547.4 455.5 L1547.4 921.5 Z" fill="#b7ff48"/>
<path d="M1206.2 921.5 L1208.2 776.5 L1209.4 766.2 L1210.5 755.8 L1211.4 745.5 L1212.6 735.1 L1213.7 724.7 L1214.8 714.4 L1215.7 704.0 L1216.9 693.7 L1218.0 683.3 L1219.1 673.0 L1220.0 662.6 L1221.2 652.3 L1222.3 641.9 L1223.5 631.6 L1224.6 621.2 L1225.5 610.9 L1226.6 600.5 L1228.6 455.5 L1547.4 455.5 L1547.4 921.5 Z" fill="#c7ff38"/>
<path d="M1213.3 921.5 L1215.3 776.5 L1216.4 766.2 L1217.6 755.8 L1218.5 745.5 L1219.6 735.1 L1220.7 724.7 L1221.9 714.4 L1222.8 704.0 L1223.9 693.7 L1225.0 683.3 L1226.2 673.0 L1227.3 662.6 L1228.2 652.3 L1229.4 641.9 L1230.5 631.6 L1231.6 621.2 L1232.8 610.9 L1233.9 600.5 L1235.9 455.5 L1547.4 455.5 L1547.4 921.5 Z" fill="#d7ff28"/>
<path d="M1220.3 921.5 L1222.3 776.5 L1223.5 766.2 L1224.6 755.8 L1225.5 745.5 L1226.6 735.1 L1227.8 724.7 L1228.9 714.4 L1230.0 704.0 L1231.2 693.7 L1232.1 683.3 L1233.2 673.0 L1234.4 662.6 L1235.5 652.3 L1236.6 641.9 L1237.8 631.6 L1238.9 621.2 L1240.0 610.9 L1241.2 600.5 L1242.3 590.1 L1244.3 455.5 L1547.4 455.5 L1547.4 921.5 Z" fill="#e7ff18"/>
<path d="M1227.4 921.5 L1229.4 776.5 L1230.5 766.2 L1231.6 755.8 L1232.8 745.5 L1233.9 735.1 L1235.0 724.7 L1236.0 714.4 L1237.1 704.0 L1238.2 693.7 L1239.4 683.3 L1240.5 673.0 L1241.6 662.6 L1242.8 652.3 L1243.9 641.9 L1245.0 631.6 L1246.2 621.2 L1247.3 610.9 L1248.4 600.5 L1249.4 590.1 L1251.4 455.5 L1547.4 455.5 L1547.4 921.5 Z" fill="#f7ff08"/>
<path d="M1235.8 921.5 L1237.8 766.2 L1238.9 755.8 L1240.0 745.5 L1241.2 735.1 L1242.3 724.7 L1243.4 714.4 L1244.4 704.0 L1245.5 693.7 L1246.6 683.3 L1247.8 673.0 L1248.9 662.6 L1250.0 652.3 L1250.9 641.9 L1252.1 631.6 L1253.2 621.2 L1254.1 610.9 L1255.3 600.5 L1256.4 590.1 L1257.3 579.8 L1259.3 455.5 L1547.4 455.5 L1547.4 921.5 Z" fill="#fff700"/>
<path d="M1243.0 921.5 L1245.0 766.2 L1246.2 755.8 L1247.3 745.5 L1248.4 735.1 L1249.6 724.7 L1250.5 714.4 L1251.6 704.0 L1252.8 693.7 L1253.9 683.3 L1254.8 673.0 L1255.9 662.6 L1257.1 652.3 L1258.0 641.9 L1259.1 631.6 L1260.3 621.2 L1261.2 610.9 L1262.3 600.5 L1263.4 590.1 L1264.3 579.8 L1266.3 455.5 L1547.4 455.5 L1547.4 921.5 Z" fill="#ffe700"/>
<path d="M1250.3 921.5 L1252.3 766.2 L1253.4 755.8 L1254.4 745.5 L1255.5 735.1 L1256.6 724.7 L1257.8 714.4 L1258.9 704.0 L1259.8 693.7 L1260.9 683.3 L1262.1 673.0 L1263.0 662.6 L1264.1 652.3 L1265.3 641.9 L1266.2 631.6 L1267.3 621.2 L1268.2 610.9 L1269.3 600.5 L1270.5 590.1 L1271.4 579.8 L1273.4 455.5 L1547.4 455.5 L1547.4 921.5 Z" fill="#ffd700"/>
<path d="M1257.6 921.5 L1259.6 766.2 L1260.7 755.8 L1261.6 745.5 L1262.8 735.1 L1263.9 724.7 L1265.0 714.4 L1265.9 704.0 L1267.1 693.7 L1268.2 683.3 L1269.1 673.0 L1270.3 662.6 L1271.4 652.3 L1272.3 641.9 L1273.4 631.6 L1274.3 621.2 L1275.5 610.9 L1276.4 600.5 L1277.5 590.1 L1278.4 579.8 L1279.6 569.4 L1281.6 455.5 L1547.4 455.5 L1547.4 921.5 Z" fill="#ffc700"/>
<path d="M1264.8 921.5 L1266.8 766.2 L1268.0 755.8 L1269.1 745.5 L1270.0 735.1 L1271.2 724.7 L1272.3 714.4 L1273.2 704.0 L1274.3 693.7 L1275.2 683.3 L1276.4 673.0 L1277.5 662.6 L1278.4 652.3 L1279.6 641.9 L1280.5 631.6 L1281.6 621.2 L1282.5 610.9 L1283.7 600.5 L1284.6 590.1 L1285.5 579.8 L1286.6 569.4 L1288.6 455.5 L1547.4 455.5 L1547.4 921.5 Z" fill="#ffc700"/>
<path d="M1272.3 921.5 L1274.3 766.2 L1275.2 755.8 L1276.4 745.5 L1277.5 735.1 L1278.4 724.7 L1279.6 714.4 L1280.5 704.0 L1281.6 693.7 L1282.5 683.3 L1283.7 673.0 L1284.6 662.6 L1285.7 652.3 L1286.6 641.9 L1287.7 631.6 L1288.7 621.2 L1289.8 610.9 L1290.7 600.5 L1291.6 590.1 L1292.7 579.8 L1293.6 569.4 L1295.6 455.5 L1547.4 455.5 L1547.4 921.5 Z" fill="#ffb700"/>
<path d="M1279.6 921.5 L1281.6 766.2 L1282.7 755.8 L1283.7 745.5 L1284.8 735.1 L1285.9 724.7 L1286.8 714.4 L1288.0 704.0 L1288.9 693.7 L1289.8 683.3 L1290.9 673.0 L1291.8 662.6 L1293.0 652.3 L1293.9 641.9 L1294.8 631.6 L1295.9 621.2 L1296.8 610.9 L1297.7 600.5 L1298.9 590.1 L1299.8 579.8 L1300.7 569.4 L1301.6 559.1 L1303.6 455.5 L1547.4 455.5 L1547.4 921.5 Z" fill="#ffa700"/>
<path d="M1288.0 921.5 L1290.0 755.8 L1291.1 745.5 L1292.1 735.1 L1293.2 724.7 L1294.1 714.4 L1295.2 704.0 L1296.1 693.7 L1297.3 683.3 L1298.2 673.0 L1299.1 662.6 L1300.2 652.3 L1301.1 641.9 L1302.1 631.6 L1303.0 621.2 L1304.1 610.9 L1305.0 600.5 L1305.9 590.1 L1306.8 579.8 L1307.7 569.4 L1308.6 559.1 L1310.6 455.5 L1547.4 455.5 L1547.4 921.5 Z" fill="#ff9700"/>
<path d="M1295.5 921.5 L1297.5 755.8 L1298.6 745.5 L1299.6 735.1 L1300.5 724.7 L1301.6 714.4 L1302.5 704.0 L1303.4 693.7 L1304.6 683.3 L1305.5 673.0 L1306.4 662.6 L1307.3 652.3 L1308.4 641.9 L1309.3 631.6 L1310.2 621.2 L1311.1 610.9 L1312.0 600.5 L1313.2 590.1 L1314.1 579.8 L1315.0 569.4 L1315.9 559.1 L1316.8 548.7 L1318.8 455.5 L1547.4 455.5 L1547.4 921.5 Z" fill="#ff8700"/>
<path d="M1303.0 921.5 L1305.0 755.8 L1305.9 745.5 L1306.8 735.1 L1308.0 724.7 L1308.9 714.4 L1309.8 704.0 L1310.9 693.7 L1311.8 683.3 L1312.7 673.0 L1313.6 662.6 L1314.8 652.3 L1315.7 641.9 L1316.6 631.6 L1317.5 621.2 L1318.4 610.9 L1319.3 600.5 L1320.2 590.1 L1321.4 579.8 L1322.3 569.4 L1323.2 559.1 L1324.1 548.7 L1326.1 455.5 L1547.4 455.5 L1547.4 921.5 Z" fill="#ff7800"/>
<path d="M1310.5 921.5 L1312.5 755.8 L1313.4 745.5 L1314.3 735.1 L1315.5 724.7 L1316.4 714.4 L1317.3 704.0 L1318.2 693.7 L1319.1 683.3 L1320.2 673.0 L1321.1 662.6 L1322.0 652.3 L1323.0 641.9 L1323.9 631.6 L1324.8 621.2 L1325.7 610.9 L1326.6 600.5 L1327.5 590.1 L1328.6 579.8 L1329.5 569.4 L1330.2 559.1 L1331.1 548.7 L1333.1 455.5 L1547.4 455.5 L1547.4 921.5 Z" fill="#ff6800"/>
<path d="M1318.0 921.5 L1320.0 755.8 L1320.9 745.5 L1321.8 735.1 L1323.0 724.7 L1323.9 714.4 L1324.8 704.0 L1325.7 693.7 L1326.6 683.3 L1327.5 673.0 L1328.4 662.6 L1329.5 652.3 L1330.4 641.9 L1331.4 631.6 L1332.3 621.2 L1333.2 610.9 L1334.1 600.5 L1335.0 590.1 L1335.9 579.8 L1336.6 569.4 L1337.5 559.1 L1338.4 548.7 L1339.3 538.4 L1341.3 455.5 L1547.4 455.5 L1547.4 921.5 Z" fill="#ff5800"/>
<path d="M1325.5 921.5 L1327.5 755.8 L1328.4 745.5 L1329.5 735.1 L1330.4 724.7 L1331.4 714.4 L1332.3 704.0 L1333.2 693.7 L1334.1 683.3 L1335.0 673.0 L1335.9 662.6 L1336.8 652.3 L1337.7 641.9 L1338.6 631.6 L1339.5 621.2 L1340.4 610.9 L1341.4 600.5 L1342.3 590.1 L1343.2 579.8 L1343.8 569.4 L1344.8 559.1 L1345.7 548.7 L1346.6 538.4 L1348.6 455.5 L1547.4 455.5 L1547.4 921.5 Z" fill="#ff4800"/>
<path d="M1333.2 921.5 L1335.2 755.8 L1336.1 745.5 L1337.0 735.1 L1337.9 724.7 L1338.9 714.4 L1339.8 704.0 L1340.7 693.7 L1341.6 683.3 L1342.5 673.0 L1343.4 662.6 L1344.3 652.3 L1345.2 641.9 L1345.9 631.6 L1346.8 621.2 L1347.7 610.9 L1348.6 600.5 L1349.5 590.1 L1350.2 579.8 L1351.1 569.4 L1352.0 559.1 L1352.7 548.7 L1353.6 538.4 L1355.6 455.5 L1547.4 455.5 L1547.4 921.5 Z" fill="#ff3800"/>
<path d="M1341.6 921.5 L1343.6 745.5 L1344.5 735.1 L1345.4 724.7 L1346.3 714.4 L1347.3 704.0 L1348.2 693.7 L1349.1 683.3 L1350.0 673.0 L1350.7 662.6 L1351.6 652.3 L1352.5 641.9 L1353.4 631.6 L1354.1 621.2 L1355.0 610.9 L1355.9 600.5 L1356.6 590.1 L1357.5 579.8 L1358.2 569.4 L1359.1 559.1 L1359.8 548.7 L1360.7 538.4 L1361.3 528.0 L1363.3 455.5 L1547.4 455.5 L1547.4 921.5 Z" fill="#ff2800"/>
<path d="M1349.1 921.5 L1351.1 745.5 L1352.0 735.1 L1352.9 724.7 L1353.8 714.4 L1354.8 704.0 L1355.4 693.7 L1356.3 683.3 L1357.3 673.0 L1357.9 662.6 L1358.8 652.3 L1359.8 641.9 L1360.4 631.6 L1361.3 621.2 L1362.0 610.9 L1362.9 600.5 L1363.6 590.1 L1364.5 579.8 L1365.2 569.4 L1366.1 559.1 L1366.8 548.7 L1367.7 538.4 L1368.4 528.0 L1370.4 455.5 L1547.4 455.5 L1547.4 921.5 Z" fill="#ff1800"/>
<path d="M1356.6 921.5 L1358.6 745.5 L1359.5 735.1 L1360.2 724.7 L1361.1 714.4 L1362.0 704.0 L1362.7 693.7 L1363.6 683.3 L1364.5 673.0 L1365.2 662.6 L1366.1 652.3 L1366.8 641.9 L1367.5 631.6 L1368.4 621.2 L1369.1 610.9 L1370.0 600.5 L1370.7 590.1 L1371.3 579.8 L1372.2 569.4 L1372.9 559.1 L1373.6 548.7 L1374.5 538.4 L1375.2 528.0 L1377.2 455.5 L1547.4 455.5 L1547.4 921.5 Z" fill="#ff0800"/>
<path d="M1363.9 921.5 L1365.9 745.5 L1366.8 735.1 L1367.5 724.7 L1368.4 714.4 L1369.1 704.0 L1370.0 693.7 L1370.7 683.3 L1371.6 673.0 L1372.2 662.6 L1373.2 652.3 L1373.8 641.9 L1374.5 631.6 L1375.2 621.2 L1376.1 610.9 L1376.8 600.5 L1377.5 590.1 L1378.1 579.8 L1379.1 569.4 L1379.7 559.1 L1380.4 548.7 L1381.1 538.4 L1381.8 528.0 L1382.5 517.7 L1384.5 455.5 L1547.4 455.5 L1547.4 921.5 Z" fill="#ff0800"/>
<path d="M1371.2 921.5 L1373.2 745.5 L1373.8 735.1 L1374.7 724.7 L1375.4 714.4 L1376.3 704.0 L1377.0 693.7 L1377.7 683.3 L1378.4 673.0 L1379.3 662.6 L1380.0 652.3 L1380.6 641.9 L1381.3 631.6 L1382.0 621.2 L1382.9 610.9 L1383.6 600.5 L1384.3 590.1 L1385.0 579.8 L1385.6 569.4 L1386.3 559.1 L1387.0 548.7 L1387.7 538.4 L1388.4 528.0 L1389.1 517.7 L1391.1 455.5 L1547.4 455.5 L1547.4 921.5 Z" fill="#f70000"/>
<path d="M1378.2 921.5 L1380.2 745.5 L1380.9 735.1 L1381.8 724.7 L1382.5 714.4 L1383.1 704.0 L1383.8 693.7 L1384.5 683.3 L1385.4 673.0 L1386.1 662.6 L1386.8 652.3 L1387.5 641.9 L1388.1 631.6 L1388.8 621.2 L1389.5 610.9 L1390.2 600.5 L1390.9 590.1 L1391.6 579.8 L1392.2 569.4 L1392.9 559.1 L1393.6 548.7 L1394.3 538.4 L1395.0 528.0 L1395.6 517.7 L1397.6 455.5 L1547.4 455.5 L1547.4 921.5 Z" fill="#e70000"/>
<path d="M1385.2 921.5 L1387.2 745.5 L1387.9 735.1 L1388.6 724.7 L1389.3 714.4 L1390.0 704.0 L1390.6 693.7 L1391.3 683.3 L1392.0 673.0 L1392.7 662.6 L1393.4 652.3 L1394.1 641.9 L1394.7 631.6 L1395.4 621.2 L1396.1 610.9 L1396.8 600.5 L1397.5 590.1 L1398.1 579.8 L1398.8 569.4 L1399.5 559.1 L1400.2 548.7 L1400.6 538.4 L1401.3 528.0 L1402.0 517.7 L1402.7 507.3 L1404.7 455.5 L1547.4 455.5 L1547.4 921.5 Z" fill="#d70000"/>
<path d="M1392.1 921.5 L1394.1 745.5 L1394.7 735.1 L1395.4 724.7 L1396.1 714.4 L1396.8 704.0 L1397.5 693.7 L1398.1 683.3 L1398.8 673.0 L1399.5 662.6 L1400.2 652.3 L1400.9 641.9 L1401.3 631.6 L1402.0 621.2 L1402.7 610.9 L1403.4 600.5 L1404.0 590.1 L1404.7 579.8 L1405.4 569.4 L1405.9 559.1 L1406.5 548.7 L1407.2 538.4 L1407.9 528.0 L1408.4 517.7 L1409.0 507.3 L1411.0 455.5 L1547.4 455.5 L1547.4 921.5 Z" fill="#c70000"/>
<path d="M1399.5 921.5 L1401.5 735.1 L1402.2 724.7 L1402.9 714.4 L1403.6 704.0 L1404.0 693.7 L1404.7 683.3 L1405.4 673.0 L1406.1 662.6 L1406.8 652.3 L1407.5 641.9 L1408.1 631.6 L1408.6 621.2 L1409.3 610.9 L1410.0 600.5 L1410.6 590.1 L1411.3 579.8 L1411.8 569.4 L1412.4 559.1 L1413.1 548.7 L1413.8 538.4 L1414.3 528.0 L1414.9 517.7 L1415.6 507.3 L1417.6 455.5 L1547.4 455.5 L1547.4 921.5 Z" fill="#b70000"/>
<path d="M1406.4 921.5 L1408.4 735.1 L1408.8 724.7 L1409.5 714.4 L1410.2 704.0 L1410.9 693.7 L1411.5 683.3 L1412.2 673.0 L1412.7 662.6 L1413.4 652.3 L1414.0 641.9 L1414.7 631.6 L1415.4 621.2 L1415.9 610.9 L1416.5 600.5 L1417.2 590.1 L1417.7 579.8 L1418.4 569.4 L1419.0 559.1 L1419.7 548.7 L1420.2 538.4 L1420.9 528.0 L1421.5 517.7 L1422.0 507.3 L1424.0 455.5 L1547.4 455.5 L1547.4 921.5 Z" fill="#a70000"/>
<path d="M1412.9 921.5 L1414.9 735.1 L1415.6 724.7 L1416.3 714.4 L1417.0 704.0 L1417.7 693.7 L1418.1 683.3 L1418.8 673.0 L1419.5 662.6 L1420.2 652.3 L1420.6 641.9 L1421.3 631.6 L1422.0 621.2 L1422.7 610.9 L1423.1 600.5 L1423.8 590.1 L1424.5 579.8 L1424.9 569.4 L1425.6 559.1 L1426.3 548.7 L1426.8 538.4 L1427.4 528.0 L1427.9 517.7 L1428.6 507.3 L1429.3 497.0 L1431.3 455.5 L1547.4 455.5 L1547.4 921.5 Z" fill="#970000"/>
<path d="M1420.0 921.5 L1422.0 735.1 L1422.4 724.7 L1423.1 714.4 L1423.8 704.0 L1424.5 693.7 L1424.9 683.3 L1425.6 673.0 L1426.3 662.6 L1426.8 652.3 L1427.4 641.9 L1428.1 631.6 L1428.8 621.2 L1429.3 610.9 L1429.9 600.5 L1430.4 590.1 L1431.1 579.8 L1431.8 569.4 L1432.2 559.1 L1432.9 548.7 L1433.3 538.4 L1434.0 528.0 L1434.7 517.7 L1435.2 507.3 L1435.8 497.0 L1437.8 455.5 L1547.4 455.5 L1547.4 921.5 Z" fill="#870000"/>
<path d="M1426.8 921.5 L1428.8 735.1 L1429.5 724.7 L1429.9 714.4 L1430.6 704.0 L1431.3 693.7 L1431.8 683.3 L1432.4 673.0 L1433.1 662.6 L1433.6 652.3 L1434.3 641.9 L1434.9 631.6 L1435.4 621.2 L1436.1 610.9 L1436.5 600.5 L1437.2 590.1 L1437.9 579.8 L1438.3 569.4 L1439.0 559.1 L1439.5 548.7 L1440.2 538.4 L1442.2 455.5 L1547.4 455.5 L1547.4 921.5 Z" fill="#870000"/>
</g>
<rect x="865.0" y="507.3" width="561.9" height="362.4" fill="none" stroke="#7a7a7a" stroke-width="1"/>
<text x="879.5" y="896.6" font-size="20" text-anchor="middle" fill="#1a1a1a" stroke="#1a1a1a" stroke-width="0.40">300</text>
<text x="946.3" y="896.6" font-size="20" text-anchor="middle" fill="#1a1a1a" stroke="#1a1a1a" stroke-width="0.40">400</text>
<text x="1013.1" y="896.6" font-size="20" text-anchor="middle" fill="#1a1a1a" stroke="#1a1a1a" stroke-width="0.40">500</text>
<text x="1079.9" y="896.6" font-size="20" text-anchor="middle" fill="#1a1a1a" stroke="#1a1a1a" stroke-width="0.40">600</text>
<text x="1146.7" y="896.6" font-size="20" text-anchor="middle" fill="#1a1a1a" stroke="#1a1a1a" stroke-width="0.40">700</text>
<text x="1213.4" y="896.6" font-size="20" text-anchor="middle" fill="#1a1a1a" stroke="#1a1a1a" stroke-width="0.40">800</text>
<text x="1280.2" y="896.6" font-size="20" text-anchor="middle" fill="#1a1a1a" stroke="#1a1a1a" stroke-width="0.40">900</text>
<text x="1347.0" y="896.6" font-size="20" text-anchor="middle" fill="#1a1a1a" stroke="#1a1a1a" stroke-width="0.40">1000</text>
<text x="1413.8" y="896.6" font-size="20" text-anchor="middle" fill="#1a1a1a" stroke="#1a1a1a" stroke-width="0.40">1100</text>
<text x="857.4" y="877.6" font-size="20" text-anchor="end" fill="#1a1a1a" stroke="#1a1a1a" stroke-width="0.40">0</text>
<text x="857.4" y="825.8" font-size="20" text-anchor="end" fill="#1a1a1a" stroke="#1a1a1a" stroke-width="0.40">1</text>
<text x="857.4" y="774.1" font-size="20" text-anchor="end" fill="#1a1a1a" stroke="#1a1a1a" stroke-width="0.40">2</text>
<text x="857.4" y="722.3" font-size="20" text-anchor="end" fill="#1a1a1a" stroke="#1a1a1a" stroke-width="0.40">3</text>
<text x="857.4" y="670.5" font-size="20" text-anchor="end" fill="#1a1a1a" stroke="#1a1a1a" stroke-width="0.40">4</text>
<text x="857.4" y="618.8" font-size="20" text-anchor="end" fill="#1a1a1a" stroke="#1a1a1a" stroke-width="0.40">5</text>
<text x="857.4" y="567.0" font-size="20" text-anchor="end" fill="#1a1a1a" stroke="#1a1a1a" stroke-width="0.40">6</text>
<text x="857.4" y="515.2" font-size="20" text-anchor="end" fill="#1a1a1a" stroke="#1a1a1a" stroke-width="0.40">7</text>
<path d="M879.5 869.7 v-5.4 M879.5 507.3 v5.4 M946.3 869.7 v-5.4 M946.3 507.3 v5.4 M1013.1 869.7 v-5.4 M1013.1 507.3 v5.4 M1079.9 869.7 v-5.4 M1079.9 507.3 v5.4 M1146.7 869.7 v-5.4 M1146.7 507.3 v5.4 M1213.4 869.7 v-5.4 M1213.4 507.3 v5.4 M1280.2 869.7 v-5.4 M1280.2 507.3 v5.4 M1347.0 869.7 v-5.4 M1347.0 507.3 v5.4 M1413.8 869.7 v-5.4 M1413.8 507.3 v5.4 M865.0 817.9 h5.4 M1426.9 817.9 h-5.4 M865.0 766.2 h5.4 M1426.9 766.2 h-5.4 M865.0 714.4 h5.4 M1426.9 714.4 h-5.4 M865.0 662.6 h5.4 M1426.9 662.6 h-5.4 M865.0 610.9 h5.4 M1426.9 610.9 h-5.4 M865.0 559.1 h5.4 M1426.9 559.1 h-5.4 " stroke="#7a7a7a" stroke-width="1" fill="none"/>
<linearGradient id="gbc" gradientUnits="userSpaceOnUse" x1="873.0" y1="0" x2="1426.9" y2="0"><stop offset="0" stop-color="#8088e0"/><stop offset="0.60" stop-color="#8c90dc"/><stop offset="0.72" stop-color="#999"/><stop offset="0.80" stop-color="#f0a070"/><stop offset="1" stop-color="#f09060"/></linearGradient>
<path d="M873.0 869.7 H1426.9 M946.3 869.7 v-5.4 M1013.1 869.7 v-5.4 M1079.9 869.7 v-5.4 M1146.7 869.7 v-5.4 M1213.4 869.7 v-5.4 M1280.2 869.7 v-5.4 M1347.0 869.7 v-5.4 M1413.8 869.7 v-5.4 " stroke="#fff" stroke-width="1.6" fill="none"/><path d="M873.0 869.7 H1426.9 M946.3 869.7 v-5.4 M1013.1 869.7 v-5.4 M1079.9 869.7 v-5.4 M1146.7 869.7 v-5.4 M1213.4 869.7 v-5.4 M1280.2 869.7 v-5.4 M1347.0 869.7 v-5.4 M1413.8 869.7 v-5.4 " stroke="url(#gbc)" stroke-width="1" fill="none"/>
<text x="864.0" y="476.5" font-size="32.2" fill="#000" stroke="#000" stroke-width="0.55">(c) cumulative ocean carbon uptake</text>
<text transform="translate(822.3 689.7) rotate(-90)" font-size="27.5" text-anchor="middle" fill="#000" stroke="#000" stroke-width="0.55">surface warming Δ<tspan font-style="italic">T</tspan> (K)</text>
<text font-size="27.5" fill="#000" stroke="#000" stroke-width="0.55"><tspan x="1014.1" y="930">atmospheric CO</tspan><tspan x="1213.1" y="940.6" font-size="15">2</tspan><tspan x="1229.3" y="930">(ppm)</tspan></text>
<rect x="1442.2" y="865.73" width="39.8" height="5.07" fill="#000087"/>
<rect x="1442.2" y="860.66" width="39.8" height="5.67" fill="#000097"/>
<rect x="1442.2" y="855.59" width="39.8" height="5.67" fill="#0000a7"/>
<rect x="1442.2" y="850.52" width="39.8" height="5.67" fill="#0000b7"/>
<rect x="1442.2" y="845.46" width="39.8" height="5.67" fill="#0000c7"/>
<rect x="1442.2" y="840.39" width="39.8" height="5.67" fill="#0000d7"/>
<rect x="1442.2" y="835.32" width="39.8" height="5.67" fill="#0000e7"/>
<rect x="1442.2" y="830.25" width="39.8" height="5.67" fill="#0000f7"/>
<rect x="1442.2" y="825.18" width="39.8" height="5.67" fill="#0008ff"/>
<rect x="1442.2" y="820.11" width="39.8" height="5.67" fill="#0018ff"/>
<rect x="1442.2" y="815.04" width="39.8" height="5.67" fill="#0028ff"/>
<rect x="1442.2" y="809.97" width="39.8" height="5.67" fill="#0038ff"/>
<rect x="1442.2" y="804.91" width="39.8" height="5.67" fill="#0048ff"/>
<rect x="1442.2" y="799.84" width="39.8" height="5.67" fill="#0058ff"/>
<rect x="1442.2" y="794.77" width="39.8" height="5.67" fill="#0068ff"/>
<rect x="1442.2" y="789.70" width="39.8" height="5.67" fill="#0078ff"/>
<rect x="1442.2" y="784.63" width="39.8" height="5.67" fill="#0087ff"/>
<rect x="1442.2" y="779.56" width="39.8" height="5.67" fill="#0097ff"/>
<rect x="1442.2" y="774.49" width="39.8" height="5.67" fill="#00a7ff"/>
<rect x="1442.2" y="769.42" width="39.8" height="5.67" fill="#00b7ff"/>
<rect x="1442.2" y="764.36" width="39.8" height="5.67" fill="#00c7ff"/>
<rect x="1442.2" y="759.29" width="39.8" height="5.67" fill="#00d7ff"/>
<rect x="1442.2" y="754.22" width="39.8" height="5.67" fill="#00e7ff"/>
<rect x="1442.2" y="749.15" width="39.8" height="5.67" fill="#00f7ff"/>
<rect x="1442.2" y="744.08" width="39.8" height="5.67" fill="#08fff7"/>
<rect x="1442.2" y="739.01" width="39.8" height="5.67" fill="#18ffe7"/>
<rect x="1442.2" y="733.94" width="39.8" height="5.67" fill="#28ffd7"/>
<rect x="1442.2" y="728.88" width="39.8" height="5.67" fill="#38ffc7"/>
<rect x="1442.2" y="723.81" width="39.8" height="5.67" fill="#48ffb7"/>
<rect x="1442.2" y="718.74" width="39.8" height="5.67" fill="#58ffa7"/>
<rect x="1442.2" y="713.67" width="39.8" height="5.67" fill="#68ff97"/>
<rect x="1442.2" y="708.60" width="39.8" height="5.67" fill="#78ff87"/>
<rect x="1442.2" y="703.53" width="39.8" height="5.67" fill="#87ff78"/>
<rect x="1442.2" y="698.46" width="39.8" height="5.67" fill="#97ff68"/>
<rect x="1442.2" y="693.39" width="39.8" height="5.67" fill="#a7ff58"/>
<rect x="1442.2" y="688.32" width="39.8" height="5.67" fill="#b7ff48"/>
<rect x="1442.2" y="683.26" width="39.8" height="5.67" fill="#c7ff38"/>
<rect x="1442.2" y="678.19" width="39.8" height="5.67" fill="#d7ff28"/>
<rect x="1442.2" y="673.12" width="39.8" height="5.67" fill="#e7ff18"/>
<rect x="1442.2" y="668.05" width="39.8" height="5.67" fill="#f7ff08"/>
<rect x="1442.2" y="662.98" width="39.8" height="5.67" fill="#fff700"/>
<rect x="1442.2" y="657.91" width="39.8" height="5.67" fill="#ffe700"/>
<rect x="1442.2" y="652.84" width="39.8" height="5.67" fill="#ffd700"/>
<rect x="1442.2" y="647.77" width="39.8" height="5.67" fill="#ffc700"/>
<rect x="1442.2" y="642.71" width="39.8" height="5.67" fill="#ffb700"/>
<rect x="1442.2" y="637.64" width="39.8" height="5.67" fill="#ffa700"/>
<rect x="1442.2" y="632.57" width="39.8" height="5.67" fill="#ff9700"/>
<rect x="1442.2" y="627.50" width="39.8" height="5.67" fill="#ff8700"/>
<rect x="1442.2" y="622.43" width="39.8" height="5.67" fill="#ff7800"/>
<rect x="1442.2" y="617.36" width="39.8" height="5.67" fill="#ff6800"/>
<rect x="1442.2" y="612.29" width="39.8" height="5.67" fill="#ff5800"/>
<rect x="1442.2" y="607.22" width="39.8" height="5.67" fill="#ff4800"/>
<rect x="1442.2" y="602.16" width="39.8" height="5.67" fill="#ff3800"/>
<rect x="1442.2" y="597.09" width="39.8" height="5.67" fill="#ff2800"/>
<rect x="1442.2" y="592.02" width="39.8" height="5.67" fill="#ff1800"/>
<rect x="1442.2" y="586.95" width="39.8" height="5.67" fill="#ff0800"/>
<rect x="1442.2" y="581.88" width="39.8" height="5.67" fill="#f70000"/>
<rect x="1442.2" y="576.81" width="39.8" height="5.67" fill="#e70000"/>
<rect x="1442.2" y="571.74" width="39.8" height="5.67" fill="#d70000"/>
<rect x="1442.2" y="566.67" width="39.8" height="5.67" fill="#c70000"/>
<rect x="1442.2" y="561.61" width="39.8" height="5.67" fill="#b70000"/>
<rect x="1442.2" y="556.54" width="39.8" height="5.67" fill="#a70000"/>
<rect x="1442.2" y="551.47" width="39.8" height="5.67" fill="#970000"/>
<rect x="1442.2" y="546.40" width="39.8" height="5.67" fill="#870000"/>
<text x="1488.2" y="877.4" font-size="18" fill="#1a1a1a" stroke="#1a1a1a" stroke-width="0.40">0</text>
<text x="1488.2" y="830.5" font-size="18" fill="#1a1a1a" stroke="#1a1a1a" stroke-width="0.40">100</text>
<text x="1488.2" y="783.6" font-size="18" fill="#1a1a1a" stroke="#1a1a1a" stroke-width="0.40">200</text>
<text x="1488.2" y="736.8" font-size="18" fill="#1a1a1a" stroke="#1a1a1a" stroke-width="0.40">300</text>
<text x="1488.2" y="689.9" font-size="18" fill="#1a1a1a" stroke="#1a1a1a" stroke-width="0.40">400</text>
<text x="1488.2" y="643.0" font-size="18" fill="#1a1a1a" stroke="#1a1a1a" stroke-width="0.40">500</text>
<text x="1488.2" y="596.1" font-size="18" fill="#1a1a1a" stroke="#1a1a1a" stroke-width="0.40">600</text>
<text x="1438.5" y="526.9" font-size="19.3" fill="#000" stroke="#000" stroke-width="0.40">(PgC)</text>
</svg>
</body></html>
